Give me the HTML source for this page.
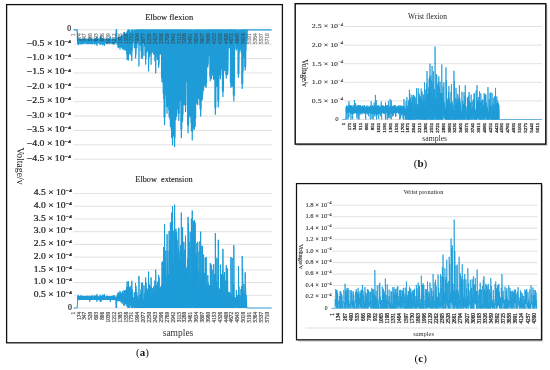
<!DOCTYPE html>
<html><head><meta charset="utf-8"><title>EMG figure</title>
<style>html,body{margin:0;padding:0;background:#fff}svg{display:block}text{font-family:"Liberation Serif",serif}</style></head><body>
<svg width="550" height="370" viewBox="0 0 550 370">
<rect width="550" height="370" fill="#fff"/>
<rect x="6.6" y="4.6" width="275.8" height="338.2" fill="#fff" stroke="#111" stroke-width="1.3"/>
<line x1="73.5" x2="272" y1="44.18" y2="44.18" stroke="#d9d9d9" stroke-width="0.8"/>
<line x1="73.5" x2="272" y1="58.56" y2="58.56" stroke="#d9d9d9" stroke-width="0.8"/>
<line x1="73.5" x2="272" y1="72.94" y2="72.94" stroke="#d9d9d9" stroke-width="0.8"/>
<line x1="73.5" x2="272" y1="87.32" y2="87.32" stroke="#d9d9d9" stroke-width="0.8"/>
<line x1="73.5" x2="272" y1="101.70" y2="101.70" stroke="#d9d9d9" stroke-width="0.8"/>
<line x1="73.5" x2="272" y1="116.08" y2="116.08" stroke="#d9d9d9" stroke-width="0.8"/>
<line x1="73.5" x2="272" y1="130.46" y2="130.46" stroke="#d9d9d9" stroke-width="0.8"/>
<line x1="73.5" x2="272" y1="144.84" y2="144.84" stroke="#d9d9d9" stroke-width="0.8"/>
<line x1="73.5" x2="272" y1="159.22" y2="159.22" stroke="#d9d9d9" stroke-width="0.8"/>
<line x1="73.5" x2="272" y1="29.8" y2="29.8" stroke="#d9d9d9" stroke-width="0.8"/>
<path d="M73.80,29.80 L73.80,29.80 L74.22,29.80 L74.22,29.80 L74.64,29.80 L74.64,29.80 L75.06,29.80 L75.06,29.80 L75.48,29.80 L75.48,29.80 L75.90,29.80 L75.90,29.80 L76.32,29.80 L76.32,29.80 L76.74,29.80 L76.74,29.80 L77.16,29.80 L77.16,29.80 L77.58,39.19 L77.58,43.39 L78.00,39.49 L78.00,43.71 L78.42,38.76 L78.42,44.65 L78.84,39.28 L78.84,42.65 L79.26,38.74 L79.26,43.13 L79.68,38.96 L79.68,43.36 L80.10,39.19 L80.10,43.51 L80.52,39.05 L80.52,43.78 L80.94,39.49 L80.94,43.63 L81.36,39.28 L81.36,43.13 L81.78,39.07 L81.78,42.98 L82.20,39.11 L82.20,43.65 L82.62,38.96 L82.62,42.95 L83.04,39.16 L83.04,42.32 L83.46,39.33 L83.46,43.46 L83.88,39.04 L83.88,43.32 L84.30,39.00 L84.30,42.93 L84.72,39.55 L84.72,42.56 L85.14,39.34 L85.14,42.99 L85.56,38.78 L85.56,42.51 L85.98,38.83 L85.98,43.12 L86.40,39.30 L86.40,43.10 L86.82,39.52 L86.82,43.61 L87.24,39.44 L87.24,43.45 L87.66,39.26 L87.66,42.80 L88.08,38.88 L88.08,43.42 L88.50,39.45 L88.50,43.10 L88.92,39.52 L88.92,43.53 L89.34,38.90 L89.34,42.47 L89.76,36.97 L89.76,42.41 L90.18,38.90 L90.18,43.43 L90.60,38.95 L90.60,43.29 L91.02,38.78 L91.02,42.27 L91.44,39.18 L91.44,43.61 L91.86,39.31 L91.86,43.71 L92.28,39.46 L92.28,42.67 L92.70,39.32 L92.70,43.62 L93.12,39.34 L93.12,42.41 L93.54,39.47 L93.54,42.43 L93.96,39.55 L93.96,42.80 L94.38,39.43 L94.38,43.83 L94.80,38.96 L94.80,43.61 L95.22,38.90 L95.22,43.60 L95.64,38.96 L95.64,42.91 L96.06,39.44 L96.06,43.09 L96.48,39.55 L96.48,43.46 L96.90,37.02 L96.90,45.34 L97.32,39.36 L97.32,42.69 L97.74,39.56 L97.74,43.03 L98.16,39.13 L98.16,42.27 L98.58,38.77 L98.58,42.30 L99.00,38.87 L99.00,42.92 L99.42,39.25 L99.42,42.81 L99.84,38.95 L99.84,43.55 L100.26,36.62 L100.26,44.72 L100.68,39.11 L100.68,42.45 L101.10,36.91 L101.10,43.37 L101.52,39.09 L101.52,42.81 L101.94,38.91 L101.94,43.57 L102.36,39.52 L102.36,42.64 L102.78,39.20 L102.78,44.95 L103.20,38.72 L103.20,42.59 L103.62,38.97 L103.62,43.87 L104.04,39.35 L104.04,43.26 L104.46,38.86 L104.46,45.32 L104.88,39.30 L104.88,42.94 L105.30,39.39 L105.30,42.36 L105.72,39.52 L105.72,42.55 L106.14,39.01 L106.14,42.26 L106.56,39.35 L106.56,42.99 L106.98,38.97 L106.98,43.72 L107.40,39.49 L107.40,42.60 L107.82,39.15 L107.82,43.15 L108.24,38.87 L108.24,43.09 L108.66,39.24 L108.66,43.01 L109.08,39.56 L109.08,42.31 L109.50,39.28 L109.50,43.10 L109.92,39.11 L109.92,43.09 L110.34,36.79 L110.34,42.34 L110.76,38.90 L110.76,42.54 L111.18,39.43 L111.18,43.01 L111.60,39.36 L111.60,43.12 L112.02,39.52 L112.02,43.49 L112.44,39.57 L112.44,42.25 L112.86,38.75 L112.86,43.46 L113.28,39.19 L113.28,43.79 L113.70,38.76 L113.70,43.12 L114.12,39.53 L114.12,44.13 L114.54,38.88 L114.54,43.42 L114.96,39.12 L114.96,42.18 L115.38,39.29 L115.38,42.45 L115.80,39.29 L115.80,42.45 L116.22,29.80 L116.22,41.88 L116.64,29.80 L116.64,41.88 L117.06,38.43 L117.06,44.18 L117.48,38.43 L117.48,44.18 L117.90,38.43 L117.90,47.06 L118.32,37.30 L118.32,45.14 L118.74,38.47 L118.74,47.31 L119.16,37.70 L119.16,45.92 L119.58,38.06 L119.58,44.77 L120.00,37.45 L120.00,49.07 L120.42,38.20 L120.42,46.79 L120.84,37.56 L120.84,46.51 L121.26,35.85 L121.26,47.16 L121.68,36.74 L121.68,44.98 L122.10,34.80 L122.10,45.47 L122.52,36.84 L122.52,48.86 L122.94,37.21 L122.94,48.80 L123.36,35.87 L123.36,45.58 L123.78,32.65 L123.78,45.92 L124.20,33.51 L124.20,49.93 L124.62,32.30 L124.62,49.26 L125.04,34.09 L125.04,45.70 L125.46,34.43 L125.46,48.98 L125.88,34.62 L125.88,50.22 L126.30,34.80 L126.30,50.59 L126.72,32.83 L126.72,53.71 L127.14,31.34 L127.14,59.71 L127.56,32.93 L127.56,51.49 L127.98,29.98 L127.98,50.45 L128.40,30.51 L128.40,59.87 L128.82,29.80 L128.82,52.83 L129.24,32.76 L129.24,53.90 L129.66,30.00 L129.66,52.62 L130.08,32.07 L130.08,51.74 L130.50,33.68 L130.50,49.92 L130.92,33.04 L130.92,54.77 L131.34,30.16 L131.34,42.06 L131.76,29.80 L131.76,60.57 L132.18,29.80 L132.18,50.79 L132.60,32.02 L132.60,41.10 L133.02,29.80 L133.02,39.11 L133.44,31.23 L133.44,41.84 L133.86,31.86 L133.86,35.83 L134.28,31.94 L134.28,47.69 L134.70,29.80 L134.70,44.88 L135.12,29.80 L135.12,36.37 L135.54,30.70 L135.54,57.98 L135.96,30.20 L135.96,54.45 L136.38,29.80 L136.38,42.88 L136.80,29.80 L136.80,47.69 L137.22,29.80 L137.22,43.45 L137.64,31.10 L137.64,39.00 L138.06,29.80 L138.06,40.50 L138.48,29.80 L138.48,38.81 L138.90,30.20 L138.90,66.04 L139.32,29.80 L139.32,43.64 L139.74,30.92 L139.74,43.90 L140.16,29.80 L140.16,41.92 L140.58,29.80 L140.58,45.49 L141.00,29.80 L141.00,50.75 L141.42,29.80 L141.42,57.97 L141.84,29.80 L141.84,44.19 L142.26,29.80 L142.26,58.56 L142.68,29.80 L142.68,42.64 L143.10,29.80 L143.10,36.68 L143.52,29.80 L143.52,38.80 L143.94,29.80 L143.94,55.44 L144.36,29.80 L144.36,46.11 L144.78,29.80 L144.78,40.78 L145.20,30.89 L145.20,38.77 L145.62,29.80 L145.62,64.20 L146.04,29.80 L146.04,58.20 L146.46,29.80 L146.46,43.34 L146.88,29.80 L146.88,52.06 L147.30,29.80 L147.30,47.74 L147.72,30.09 L147.72,50.35 L148.14,29.82 L148.14,38.99 L148.56,29.80 L148.56,70.93 L148.98,29.80 L148.98,47.08 L149.40,29.80 L149.40,56.40 L149.82,29.80 L149.82,48.64 L150.24,30.88 L150.24,45.30 L150.66,29.80 L150.66,54.41 L151.08,31.65 L151.08,64.31 L151.50,29.80 L151.50,43.81 L151.92,29.80 L151.92,39.54 L152.34,29.80 L152.34,52.14 L152.76,29.80 L152.76,40.68 L153.18,29.80 L153.18,47.98 L153.60,29.80 L153.60,54.19 L154.02,29.80 L154.02,39.79 L154.44,29.80 L154.44,48.03 L154.86,29.80 L154.86,60.87 L155.28,29.80 L155.28,54.93 L155.70,29.80 L155.70,72.94 L156.12,31.50 L156.12,42.65 L156.54,29.80 L156.54,56.02 L156.96,29.80 L156.96,45.53 L157.38,29.80 L157.38,59.54 L157.80,29.80 L157.80,45.56 L158.22,29.80 L158.22,39.12 L158.64,29.80 L158.64,67.19 L159.06,29.80 L159.06,64.28 L159.48,29.80 L159.48,51.39 L159.90,29.80 L159.90,39.36 L160.32,29.80 L160.32,53.83 L160.74,30.84 L160.74,48.40 L161.16,29.80 L161.16,54.18 L161.58,31.53 L161.58,77.43 L162.00,29.80 L162.00,81.57 L162.42,29.81 L162.42,78.49 L162.84,29.80 L162.84,82.73 L163.26,29.80 L163.26,93.30 L163.68,29.80 L163.68,98.82 L164.10,29.80 L164.10,117.12 L164.52,29.80 L164.52,124.71 L164.94,29.80 L164.94,117.12 L165.36,29.80 L165.36,89.59 L165.78,30.87 L165.78,94.79 L166.20,29.80 L166.20,89.59 L166.62,29.80 L166.62,106.53 L167.04,29.80 L167.04,113.20 L167.46,29.80 L167.46,106.53 L167.88,29.80 L167.88,94.29 L168.30,29.84 L168.30,89.13 L168.72,29.80 L168.72,109.93 L169.14,31.13 L169.14,116.90 L169.56,29.80 L169.56,109.93 L169.98,29.80 L169.98,118.70 L170.40,29.80 L170.40,126.43 L170.82,29.80 L170.82,118.70 L171.24,29.80 L171.24,128.96 L171.66,29.80 L171.66,137.58 L172.08,29.80 L172.08,135.64 L172.50,29.80 L172.50,144.84 L172.92,29.80 L172.92,135.64 L173.34,31.44 L173.34,110.24 L173.76,29.80 L173.76,117.23 L174.18,29.80 L174.18,137.22 L174.60,29.80 L174.60,146.57 L175.02,29.80 L175.02,137.22 L175.44,29.80 L175.44,112.12 L175.86,29.80 L175.86,119.28 L176.28,29.80 L176.28,112.12 L176.70,29.89 L176.70,116.08 L177.12,29.80 L177.12,109.18 L177.54,29.80 L177.54,100.80 L177.96,30.99 L177.96,92.06 L178.38,29.80 L178.38,113.15 L178.80,29.80 L178.80,120.39 L179.22,29.80 L179.22,113.15 L179.64,29.80 L179.64,88.94 L180.06,29.80 L180.06,94.89 L180.48,29.80 L180.48,100.55 L180.90,29.80 L180.90,129.02 L181.32,29.80 L181.32,137.65 L181.74,29.80 L181.74,129.02 L182.16,29.80 L182.16,114.00 L182.58,29.80 L182.58,121.32 L183.00,29.80 L183.00,114.00 L183.42,29.80 L183.42,98.59 L183.84,29.80 L183.84,104.58 L184.26,29.80 L184.26,98.59 L184.68,29.80 L184.68,90.73 L185.10,29.80 L185.10,105.00 L185.52,29.80 L185.52,111.54 L185.94,29.80 L185.94,105.00 L186.36,31.55 L186.36,74.80 L186.78,31.09 L186.78,72.85 L187.20,29.80 L187.20,81.39 L187.62,29.80 L187.62,124.52 L188.04,29.80 L188.04,132.76 L188.46,29.80 L188.46,125.78 L188.88,29.80 L188.88,118.10 L189.30,30.91 L189.30,98.67 L189.72,29.80 L189.72,109.18 L190.14,29.80 L190.14,116.08 L190.56,29.80 L190.56,109.18 L190.98,29.80 L190.98,122.59 L191.40,29.80 L191.40,130.66 L191.82,29.80 L191.82,131.14 L192.24,31.13 L192.24,139.95 L192.66,31.83 L192.66,131.14 L193.08,29.80 L193.08,120.12 L193.50,29.80 L193.50,127.97 L193.92,31.33 L193.92,121.30 L194.34,29.80 L194.34,129.26 L194.76,31.15 L194.76,121.30 L195.18,29.80 L195.18,126.43 L195.60,29.80 L195.60,118.70 L196.02,29.80 L196.02,91.32 L196.44,29.80 L196.44,97.37 L196.86,30.75 L196.86,103.24 L197.28,29.80 L197.28,98.59 L197.70,29.80 L197.70,104.58 L198.12,29.80 L198.12,98.59 L198.54,29.80 L198.54,88.48 L198.96,30.03 L198.96,93.59 L199.38,29.80 L199.38,99.09 L199.80,29.80 L199.80,105.12 L200.22,30.44 L200.22,109.18 L200.64,29.80 L200.64,116.08 L201.06,29.80 L201.06,109.18 L201.48,29.80 L201.48,94.46 L201.90,29.80 L201.90,100.08 L202.32,29.80 L202.32,99.33 L202.74,29.80 L202.74,93.77 L203.16,29.80 L203.16,85.36 L203.58,29.80 L203.58,90.20 L204.00,29.80 L204.00,85.36 L204.42,29.80 L204.42,69.26 L204.84,30.92 L204.84,81.76 L205.26,29.80 L205.26,86.28 L205.68,31.88 L205.68,86.50 L206.10,29.80 L206.10,87.32 L206.52,29.80 L206.52,82.72 L206.94,29.80 L206.94,54.44 L207.36,29.80 L207.36,63.92 L207.78,30.67 L207.78,66.88 L208.20,29.80 L208.20,63.92 L208.62,29.80 L208.62,55.87 L209.04,29.80 L209.04,53.38 L209.46,29.80 L209.46,55.43 L209.88,29.80 L209.88,76.49 L210.30,29.80 L210.30,80.55 L210.72,29.80 L210.72,76.49 L211.14,29.80 L211.14,74.78 L211.56,29.80 L211.56,78.69 L211.98,29.80 L211.98,74.78 L212.40,31.31 L212.40,69.49 L212.82,29.80 L212.82,72.94 L213.24,29.80 L213.24,75.39 L213.66,29.80 L213.66,79.35 L214.08,29.80 L214.08,75.39 L214.50,29.80 L214.50,68.11 L214.92,29.80 L214.92,107.59 L215.34,30.42 L215.34,114.35 L215.76,29.80 L215.76,107.59 L216.18,29.80 L216.18,82.40 L216.60,29.80 L216.60,81.63 L217.02,29.80 L217.02,86.14 L217.44,29.80 L217.44,81.63 L217.86,29.80 L217.86,100.71 L218.28,29.80 L218.28,106.88 L218.70,31.07 L218.70,100.71 L219.12,29.80 L219.12,51.89 L219.54,29.80 L219.54,50.41 L219.96,29.80 L219.96,74.78 L220.38,29.80 L220.38,78.69 L220.80,29.80 L220.80,74.78 L221.22,29.80 L221.22,66.32 L221.64,30.93 L221.64,68.16 L222.06,29.80 L222.06,69.04 L222.48,29.80 L222.48,91.19 L222.90,29.80 L222.90,96.52 L223.32,29.80 L223.32,91.19 L223.74,29.80 L223.74,66.65 L224.16,29.80 L224.16,67.31 L224.58,30.90 L224.58,70.57 L225.00,29.80 L225.00,67.31 L225.42,29.80 L225.42,58.21 L225.84,30.21 L225.84,74.25 L226.26,29.80 L226.26,78.12 L226.68,29.80 L226.68,74.25 L227.10,29.80 L227.10,70.99 L227.52,29.80 L227.52,74.57 L227.94,29.80 L227.94,70.99 L228.36,29.80 L228.36,48.00 L228.78,29.80 L228.78,46.54 L229.20,29.80 L229.20,47.81 L229.62,29.80 L229.62,46.37 L230.04,29.80 L230.04,45.65 L230.46,29.80 L230.46,82.72 L230.88,29.80 L230.88,87.32 L231.30,29.80 L231.30,82.72 L231.72,29.80 L231.72,81.80 L232.14,29.80 L232.14,86.32 L232.56,29.80 L232.56,81.80 L232.98,30.50 L232.98,54.70 L233.40,29.80 L233.40,95.15 L233.82,29.80 L233.82,100.84 L234.24,29.80 L234.24,95.15 L234.66,29.80 L234.66,41.18 L235.08,29.80 L235.08,42.17 L235.50,29.80 L235.50,41.18 L235.92,29.80 L235.92,48.45 L236.34,31.71 L236.34,50.07 L236.76,32.04 L236.76,48.45 L237.18,29.80 L237.18,44.46 L237.60,31.02 L237.60,43.94 L238.02,30.98 L238.02,73.46 L238.44,29.80 L238.44,77.25 L238.86,31.00 L238.86,73.46 L239.28,29.80 L239.28,52.28 L239.70,30.10 L239.70,43.62 L240.12,29.80 L240.12,42.56 L240.54,31.93 L240.54,49.31 L240.96,29.80 L240.96,51.01 L241.38,29.80 L241.38,52.67 L241.80,29.80 L241.80,83.78 L242.22,29.80 L242.22,88.47 L242.64,29.80 L242.64,83.78 L243.06,29.80 L243.06,71.18 L243.48,29.80 L243.48,54.68 L243.90,29.80 L243.90,56.85 L244.32,29.80 L244.32,54.68 L244.74,29.80 L244.74,66.84 L245.16,29.80 L245.16,70.06 L245.58,29.80 L245.58,66.84 L246.00,29.80 L246.00,50.47 L246.42,29.80 L246.42,43.27 L246.84,29.80 L246.84,39.11 L247.26,29.80 L247.26,29.80 L247.68,29.80 L247.68,29.80 L248.10,29.80 L248.10,29.80 L248.52,29.80 L248.52,29.80 L248.94,29.80 L248.94,29.80 L249.36,29.80 L249.36,29.80 L249.78,29.80 L249.78,29.80 L250.20,29.80 L250.20,29.80 L250.62,29.80 L250.62,29.80 L251.04,29.80 L251.04,29.80 L251.46,29.80 L251.46,29.80 L251.88,29.80 L251.88,29.80 L252.30,29.80 L252.30,29.80 L252.72,29.80 L252.72,29.80 L253.14,29.80 L253.14,29.80 L253.56,29.80 L253.56,29.80 L253.98,29.80 L253.98,29.80 L254.40,29.80 L254.40,29.80 L254.82,29.80 L254.82,29.80 L255.24,29.80 L255.24,29.80 L255.66,29.80 L255.66,29.80 L256.08,29.80 L256.08,29.80 L256.50,29.80 L256.50,29.80 L256.92,29.80 L256.92,29.80 L257.34,29.80 L257.34,29.80 L257.76,29.80 L257.76,29.80 L258.18,29.80 L258.18,29.80 L258.60,29.80 L258.60,29.80 L259.02,29.80 L259.02,29.80 L259.44,29.80 L259.44,29.80 L259.86,29.80 L259.86,29.80 L260.28,29.80 L260.28,29.80 L260.70,29.80 L260.70,29.80 L261.12,29.80 L261.12,29.80 L261.54,29.80 L261.54,29.80 L261.96,29.80 L261.96,29.80 L262.38,29.80 L262.38,29.80 L262.80,29.80 L262.80,29.80 L263.22,29.80 L263.22,29.80 L263.64,29.80 L263.64,29.80 L264.06,29.80 L264.06,29.80 L264.48,29.80 L264.48,29.80 L264.90,29.80 L264.90,29.80 L265.32,29.80 L265.32,29.80 L265.74,29.80 L265.74,29.80 L266.16,29.80 L266.16,29.80 L266.58,29.80 L266.58,29.80 L267.00,29.80 L267.00,29.80 L267.42,29.80 L267.42,29.80 L267.84,29.80 L267.84,29.80 L268.26,29.80 L268.26,29.80 L268.68,29.80 L268.68,29.80 L269.10,29.80 L269.10,29.80 L269.52,29.80 L269.52,29.80 L269.94,29.80 L269.94,29.80 L270.36,29.80 L270.36,29.80 L270.78,29.80 L270.78,29.80 L271.20,29.80 L271.20,29.80 L271.62,29.80 L271.62,29.80" fill="none" stroke="#1e9cd8" stroke-width="1.25" stroke-linejoin="round"/>
<g opacity="0.62"><text transform="translate(74.69,33.4) rotate(-90)" font-size="5.25" fill="#3a3a3a" stroke="#3a3a3a" stroke-width="0.25" text-anchor="end" font-family="Liberation Sans, sans-serif">1</text>
<text transform="translate(80.57,33.4) rotate(-90)" font-size="5.25" fill="#3a3a3a" stroke="#3a3a3a" stroke-width="0.25" text-anchor="end" font-family="Liberation Sans, sans-serif">174</text>
<text transform="translate(86.45,33.4) rotate(-90)" font-size="5.25" fill="#3a3a3a" stroke="#3a3a3a" stroke-width="0.25" text-anchor="end" font-family="Liberation Sans, sans-serif">347</text>
<text transform="translate(92.33,33.4) rotate(-90)" font-size="5.25" fill="#3a3a3a" stroke="#3a3a3a" stroke-width="0.25" text-anchor="end" font-family="Liberation Sans, sans-serif">520</text>
<text transform="translate(98.21,33.4) rotate(-90)" font-size="5.25" fill="#3a3a3a" stroke="#3a3a3a" stroke-width="0.25" text-anchor="end" font-family="Liberation Sans, sans-serif">693</text>
<text transform="translate(104.08,33.4) rotate(-90)" font-size="5.25" fill="#3a3a3a" stroke="#3a3a3a" stroke-width="0.25" text-anchor="end" font-family="Liberation Sans, sans-serif">866</text>
<text transform="translate(109.96,33.4) rotate(-90)" font-size="5.25" fill="#3a3a3a" stroke="#3a3a3a" stroke-width="0.25" text-anchor="end" font-family="Liberation Sans, sans-serif">1039</text>
<text transform="translate(115.84,33.4) rotate(-90)" font-size="5.25" fill="#3a3a3a" stroke="#3a3a3a" stroke-width="0.25" text-anchor="end" font-family="Liberation Sans, sans-serif">1212</text>
<text transform="translate(121.72,33.4) rotate(-90)" font-size="5.25" fill="#3a3a3a" stroke="#3a3a3a" stroke-width="0.25" text-anchor="end" font-family="Liberation Sans, sans-serif">1385</text>
<text transform="translate(127.60,33.4) rotate(-90)" font-size="5.25" fill="#3a3a3a" stroke="#3a3a3a" stroke-width="0.25" text-anchor="end" font-family="Liberation Sans, sans-serif">1558</text>
<text transform="translate(133.48,33.4) rotate(-90)" font-size="5.25" fill="#3a3a3a" stroke="#3a3a3a" stroke-width="0.25" text-anchor="end" font-family="Liberation Sans, sans-serif">1731</text>
<text transform="translate(139.36,33.4) rotate(-90)" font-size="5.25" fill="#3a3a3a" stroke="#3a3a3a" stroke-width="0.25" text-anchor="end" font-family="Liberation Sans, sans-serif">1904</text>
<text transform="translate(145.24,33.4) rotate(-90)" font-size="5.25" fill="#3a3a3a" stroke="#3a3a3a" stroke-width="0.25" text-anchor="end" font-family="Liberation Sans, sans-serif">2077</text>
<text transform="translate(151.12,33.4) rotate(-90)" font-size="5.25" fill="#3a3a3a" stroke="#3a3a3a" stroke-width="0.25" text-anchor="end" font-family="Liberation Sans, sans-serif">2250</text>
<text transform="translate(157.00,33.4) rotate(-90)" font-size="5.25" fill="#3a3a3a" stroke="#3a3a3a" stroke-width="0.25" text-anchor="end" font-family="Liberation Sans, sans-serif">2423</text>
<text transform="translate(162.87,33.4) rotate(-90)" font-size="5.25" fill="#3a3a3a" stroke="#3a3a3a" stroke-width="0.25" text-anchor="end" font-family="Liberation Sans, sans-serif">2596</text>
<text transform="translate(168.75,33.4) rotate(-90)" font-size="5.25" fill="#3a3a3a" stroke="#3a3a3a" stroke-width="0.25" text-anchor="end" font-family="Liberation Sans, sans-serif">2769</text>
<text transform="translate(174.63,33.4) rotate(-90)" font-size="5.25" fill="#3a3a3a" stroke="#3a3a3a" stroke-width="0.25" text-anchor="end" font-family="Liberation Sans, sans-serif">2942</text>
<text transform="translate(180.51,33.4) rotate(-90)" font-size="5.25" fill="#3a3a3a" stroke="#3a3a3a" stroke-width="0.25" text-anchor="end" font-family="Liberation Sans, sans-serif">3115</text>
<text transform="translate(186.39,33.4) rotate(-90)" font-size="5.25" fill="#3a3a3a" stroke="#3a3a3a" stroke-width="0.25" text-anchor="end" font-family="Liberation Sans, sans-serif">3288</text>
<text transform="translate(192.27,33.4) rotate(-90)" font-size="5.25" fill="#3a3a3a" stroke="#3a3a3a" stroke-width="0.25" text-anchor="end" font-family="Liberation Sans, sans-serif">3461</text>
<text transform="translate(198.15,33.4) rotate(-90)" font-size="5.25" fill="#3a3a3a" stroke="#3a3a3a" stroke-width="0.25" text-anchor="end" font-family="Liberation Sans, sans-serif">3634</text>
<text transform="translate(204.03,33.4) rotate(-90)" font-size="5.25" fill="#3a3a3a" stroke="#3a3a3a" stroke-width="0.25" text-anchor="end" font-family="Liberation Sans, sans-serif">3807</text>
<text transform="translate(209.91,33.4) rotate(-90)" font-size="5.25" fill="#3a3a3a" stroke="#3a3a3a" stroke-width="0.25" text-anchor="end" font-family="Liberation Sans, sans-serif">3980</text>
<text transform="translate(215.79,33.4) rotate(-90)" font-size="5.25" fill="#3a3a3a" stroke="#3a3a3a" stroke-width="0.25" text-anchor="end" font-family="Liberation Sans, sans-serif">4153</text>
<text transform="translate(221.66,33.4) rotate(-90)" font-size="5.25" fill="#3a3a3a" stroke="#3a3a3a" stroke-width="0.25" text-anchor="end" font-family="Liberation Sans, sans-serif">4326</text>
<text transform="translate(227.54,33.4) rotate(-90)" font-size="5.25" fill="#3a3a3a" stroke="#3a3a3a" stroke-width="0.25" text-anchor="end" font-family="Liberation Sans, sans-serif">4499</text>
<text transform="translate(233.42,33.4) rotate(-90)" font-size="5.25" fill="#3a3a3a" stroke="#3a3a3a" stroke-width="0.25" text-anchor="end" font-family="Liberation Sans, sans-serif">4672</text>
<text transform="translate(239.30,33.4) rotate(-90)" font-size="5.25" fill="#3a3a3a" stroke="#3a3a3a" stroke-width="0.25" text-anchor="end" font-family="Liberation Sans, sans-serif">4845</text>
<text transform="translate(245.18,33.4) rotate(-90)" font-size="5.25" fill="#3a3a3a" stroke="#3a3a3a" stroke-width="0.25" text-anchor="end" font-family="Liberation Sans, sans-serif">5018</text>
<text transform="translate(251.06,33.4) rotate(-90)" font-size="5.25" fill="#3a3a3a" stroke="#3a3a3a" stroke-width="0.25" text-anchor="end" font-family="Liberation Sans, sans-serif">5191</text>
<text transform="translate(256.94,33.4) rotate(-90)" font-size="5.25" fill="#3a3a3a" stroke="#3a3a3a" stroke-width="0.25" text-anchor="end" font-family="Liberation Sans, sans-serif">5364</text>
<text transform="translate(262.82,33.4) rotate(-90)" font-size="5.25" fill="#3a3a3a" stroke="#3a3a3a" stroke-width="0.25" text-anchor="end" font-family="Liberation Sans, sans-serif">5537</text>
<text transform="translate(268.70,33.4) rotate(-90)" font-size="5.25" fill="#3a3a3a" stroke="#3a3a3a" stroke-width="0.25" text-anchor="end" font-family="Liberation Sans, sans-serif">5710</text></g>
<text x="169.2" y="20.3" font-size="8.45" fill="#222" stroke="#222" stroke-width="0.12" text-anchor="middle">Elbow flexion</text>
<text x="71" y="31.30" font-size="7.6" fill="#222" stroke="#222" stroke-width="0.22" text-anchor="end">0</text>
<text x="71" y="45.68" font-size="7.6" fill="#222" stroke="#222" stroke-width="0.22" text-anchor="end" textLength="44.2" lengthAdjust="spacingAndGlyphs">−0.5 × 10<tspan dy="-2.89" font-size="4.71">−4</tspan></text>
<text x="71" y="60.06" font-size="7.6" fill="#222" stroke="#222" stroke-width="0.22" text-anchor="end" textLength="44.2" lengthAdjust="spacingAndGlyphs">−1.0 × 10<tspan dy="-2.89" font-size="4.71">−4</tspan></text>
<text x="71" y="74.44" font-size="7.6" fill="#222" stroke="#222" stroke-width="0.22" text-anchor="end" textLength="44.2" lengthAdjust="spacingAndGlyphs">−1.5 × 10<tspan dy="-2.89" font-size="4.71">−4</tspan></text>
<text x="71" y="88.82" font-size="7.6" fill="#222" stroke="#222" stroke-width="0.22" text-anchor="end" textLength="44.2" lengthAdjust="spacingAndGlyphs">−2.0 × 10<tspan dy="-2.89" font-size="4.71">−4</tspan></text>
<text x="71" y="103.20" font-size="7.6" fill="#222" stroke="#222" stroke-width="0.22" text-anchor="end" textLength="44.2" lengthAdjust="spacingAndGlyphs">−2.5 × 10<tspan dy="-2.89" font-size="4.71">−4</tspan></text>
<text x="71" y="117.58" font-size="7.6" fill="#222" stroke="#222" stroke-width="0.22" text-anchor="end" textLength="44.2" lengthAdjust="spacingAndGlyphs">−3.0 × 10<tspan dy="-2.89" font-size="4.71">−4</tspan></text>
<text x="71" y="131.96" font-size="7.6" fill="#222" stroke="#222" stroke-width="0.22" text-anchor="end" textLength="44.2" lengthAdjust="spacingAndGlyphs">−3.5 × 10<tspan dy="-2.89" font-size="4.71">−4</tspan></text>
<text x="71" y="146.34" font-size="7.6" fill="#222" stroke="#222" stroke-width="0.22" text-anchor="end" textLength="44.2" lengthAdjust="spacingAndGlyphs">−4.0 × 10<tspan dy="-2.89" font-size="4.71">−4</tspan></text>
<text x="71" y="160.72" font-size="7.6" fill="#222" stroke="#222" stroke-width="0.22" text-anchor="end" textLength="44.2" lengthAdjust="spacingAndGlyphs">−4.5 × 10<tspan dy="-2.89" font-size="4.71">−4</tspan></text>
<line x1="73.5" x2="272" y1="308.00" y2="308.00" stroke="#d9d9d9" stroke-width="0.8"/>
<line x1="73.5" x2="272" y1="295.28" y2="295.28" stroke="#d9d9d9" stroke-width="0.8"/>
<line x1="73.5" x2="272" y1="282.56" y2="282.56" stroke="#d9d9d9" stroke-width="0.8"/>
<line x1="73.5" x2="272" y1="269.84" y2="269.84" stroke="#d9d9d9" stroke-width="0.8"/>
<line x1="73.5" x2="272" y1="257.12" y2="257.12" stroke="#d9d9d9" stroke-width="0.8"/>
<line x1="73.5" x2="272" y1="244.40" y2="244.40" stroke="#d9d9d9" stroke-width="0.8"/>
<line x1="73.5" x2="272" y1="231.68" y2="231.68" stroke="#d9d9d9" stroke-width="0.8"/>
<line x1="73.5" x2="272" y1="218.96" y2="218.96" stroke="#d9d9d9" stroke-width="0.8"/>
<line x1="73.5" x2="272" y1="206.24" y2="206.24" stroke="#d9d9d9" stroke-width="0.8"/>
<line x1="73.5" x2="272" y1="193.52" y2="193.52" stroke="#d9d9d9" stroke-width="0.8"/>
<path d="M73.80,308.00 L73.80,308.00 L74.22,308.00 L74.22,308.00 L74.64,308.00 L74.64,308.00 L75.06,308.00 L75.06,308.00 L75.48,308.00 L75.48,308.00 L75.90,308.00 L75.90,308.00 L76.32,308.00 L76.32,308.00 L76.74,308.00 L76.74,308.00 L77.16,308.00 L77.16,308.00 L77.58,299.69 L77.58,295.98 L78.00,299.43 L78.00,295.69 L78.42,300.07 L78.42,294.86 L78.84,299.62 L78.84,296.64 L79.26,300.10 L79.26,296.21 L79.68,299.90 L79.68,296.00 L80.10,299.70 L80.10,295.87 L80.52,299.82 L80.52,295.63 L80.94,299.42 L80.94,295.77 L81.36,299.61 L81.36,296.21 L81.78,299.80 L81.78,296.35 L82.20,299.76 L82.20,295.75 L82.62,299.90 L82.62,296.37 L83.04,299.72 L83.04,296.93 L83.46,299.57 L83.46,295.92 L83.88,299.83 L83.88,296.04 L84.30,299.86 L84.30,296.38 L84.72,299.37 L84.72,296.71 L85.14,299.56 L85.14,296.34 L85.56,300.06 L85.56,296.76 L85.98,300.01 L85.98,296.22 L86.40,299.59 L86.40,296.23 L86.82,299.41 L86.82,295.78 L87.24,299.47 L87.24,295.92 L87.66,299.63 L87.66,296.50 L88.08,299.97 L88.08,295.95 L88.50,299.46 L88.50,296.23 L88.92,299.41 L88.92,295.86 L89.34,299.95 L89.34,296.79 L89.76,301.66 L89.76,296.84 L90.18,299.95 L90.18,295.95 L90.60,299.90 L90.60,296.07 L91.02,300.06 L91.02,296.97 L91.44,299.70 L91.44,295.78 L91.86,299.59 L91.86,295.69 L92.28,299.45 L92.28,296.62 L92.70,299.58 L92.70,295.78 L93.12,299.56 L93.12,296.85 L93.54,299.44 L93.54,296.83 L93.96,299.37 L93.96,296.50 L94.38,299.48 L94.38,295.59 L94.80,299.89 L94.80,295.79 L95.22,299.95 L95.22,295.79 L95.64,299.90 L95.64,296.40 L96.06,299.47 L96.06,296.24 L96.48,299.38 L96.48,295.91 L96.90,301.61 L96.90,294.25 L97.32,299.55 L97.32,296.60 L97.74,299.37 L97.74,296.29 L98.16,299.75 L98.16,296.97 L98.58,300.06 L98.58,296.94 L99.00,299.97 L99.00,296.39 L99.42,299.64 L99.42,296.49 L99.84,299.90 L99.84,295.84 L100.26,301.96 L100.26,294.80 L100.68,299.76 L100.68,296.81 L101.10,301.71 L101.10,296.00 L101.52,299.78 L101.52,296.49 L101.94,299.94 L101.94,295.82 L102.36,299.40 L102.36,296.64 L102.78,299.68 L102.78,294.60 L103.20,300.11 L103.20,296.68 L103.62,299.89 L103.62,295.55 L104.04,299.55 L104.04,296.10 L104.46,299.98 L104.46,294.27 L104.88,299.60 L104.88,296.38 L105.30,299.52 L105.30,296.89 L105.72,299.41 L105.72,296.72 L106.14,299.85 L106.14,296.97 L106.56,299.55 L106.56,296.33 L106.98,299.89 L106.98,295.69 L107.40,299.43 L107.40,296.68 L107.82,299.73 L107.82,296.19 L108.24,299.98 L108.24,296.25 L108.66,299.65 L108.66,296.31 L109.08,299.36 L109.08,296.93 L109.50,299.62 L109.50,296.23 L109.92,299.77 L109.92,296.24 L110.34,301.82 L110.34,296.90 L110.76,299.95 L110.76,296.73 L111.18,299.48 L111.18,296.32 L111.60,299.55 L111.60,296.22 L112.02,299.40 L112.02,295.89 L112.44,299.35 L112.44,296.99 L112.86,300.08 L112.86,295.92 L113.28,299.69 L113.28,295.63 L113.70,300.07 L113.70,296.22 L114.12,299.39 L114.12,295.32 L114.54,299.97 L114.54,295.95 L114.96,299.76 L114.96,297.05 L115.38,299.60 L115.38,296.81 L115.80,299.60 L115.80,296.81 L116.22,308.00 L116.22,297.32 L116.64,308.00 L116.64,297.32 L117.06,300.37 L117.06,295.28 L117.48,300.37 L117.48,295.28 L117.90,300.37 L117.90,292.74 L118.32,301.36 L118.32,294.43 L118.74,300.33 L118.74,292.51 L119.16,301.01 L119.16,293.74 L119.58,300.70 L119.58,294.76 L120.00,301.24 L120.00,290.96 L120.42,300.57 L120.42,292.97 L120.84,301.14 L120.84,293.22 L121.26,302.65 L121.26,292.64 L121.68,301.87 L121.68,294.57 L122.10,303.57 L122.10,294.14 L122.52,301.77 L122.52,291.14 L122.94,301.44 L122.94,291.19 L123.36,302.63 L123.36,294.04 L123.78,305.48 L123.78,293.74 L124.20,304.71 L124.20,290.19 L124.62,305.79 L124.62,290.79 L125.04,304.21 L125.04,293.93 L125.46,303.91 L125.46,291.03 L125.88,303.74 L125.88,289.94 L126.30,303.58 L126.30,289.61 L126.72,305.32 L126.72,286.85 L127.14,306.64 L127.14,281.54 L127.56,305.23 L127.56,288.82 L127.98,307.84 L127.98,289.73 L128.40,307.37 L128.40,281.41 L128.82,308.00 L128.82,287.63 L129.24,305.38 L129.24,286.68 L129.66,307.83 L129.66,287.81 L130.08,305.99 L130.08,288.59 L130.50,304.57 L130.50,290.20 L130.92,305.13 L130.92,285.91 L131.34,307.68 L131.34,297.16 L131.76,308.00 L131.76,280.78 L132.18,308.00 L132.18,289.44 L132.60,306.04 L132.60,298.01 L133.02,308.00 L133.02,299.76 L133.44,306.73 L133.44,297.35 L133.86,306.18 L133.86,302.67 L134.28,306.10 L134.28,292.18 L134.70,308.00 L134.70,294.66 L135.12,308.00 L135.12,302.18 L135.54,307.20 L135.54,283.07 L135.96,307.65 L135.96,286.20 L136.38,308.00 L136.38,296.43 L136.80,308.00 L136.80,292.18 L137.22,308.00 L137.22,295.93 L137.64,306.85 L137.64,299.87 L138.06,308.00 L138.06,298.53 L138.48,308.00 L138.48,300.03 L138.90,307.64 L138.90,275.95 L139.32,308.00 L139.32,295.75 L139.74,307.01 L139.74,295.53 L140.16,308.00 L140.16,297.28 L140.58,308.00 L140.58,294.12 L141.00,308.00 L141.00,289.47 L141.42,308.00 L141.42,283.08 L141.84,308.00 L141.84,295.27 L142.26,308.00 L142.26,282.56 L142.68,308.00 L142.68,296.65 L143.10,308.00 L143.10,301.92 L143.52,308.00 L143.52,300.04 L143.94,308.00 L143.94,285.32 L144.36,308.00 L144.36,293.57 L144.78,308.00 L144.78,298.29 L145.20,307.04 L145.20,300.07 L145.62,308.00 L145.62,277.57 L146.04,308.00 L146.04,282.88 L146.46,308.00 L146.46,296.02 L146.88,308.00 L146.88,288.31 L147.30,308.00 L147.30,292.13 L147.72,307.74 L147.72,289.82 L148.14,307.99 L148.14,299.87 L148.56,308.00 L148.56,271.62 L148.98,308.00 L148.98,292.71 L149.40,308.00 L149.40,284.47 L149.82,308.00 L149.82,291.34 L150.24,307.04 L150.24,294.29 L150.66,308.00 L150.66,286.23 L151.08,306.37 L151.08,277.47 L151.50,308.00 L151.50,295.61 L151.92,308.00 L151.92,299.38 L152.34,308.00 L152.34,288.24 L152.76,308.00 L152.76,298.37 L153.18,308.00 L153.18,291.91 L153.60,308.00 L153.60,286.42 L154.02,308.00 L154.02,299.16 L154.44,308.00 L154.44,291.87 L154.86,308.00 L154.86,280.52 L155.28,308.00 L155.28,285.77 L155.70,308.00 L155.70,269.84 L156.12,306.49 L156.12,296.63 L156.54,308.00 L156.54,284.80 L156.96,308.00 L156.96,294.08 L157.38,308.00 L157.38,281.70 L157.80,308.00 L157.80,294.06 L158.22,308.00 L158.22,299.76 L158.64,308.00 L158.64,274.93 L159.06,308.00 L159.06,277.50 L159.48,308.00 L159.48,288.90 L159.90,308.00 L159.90,299.55 L160.32,308.00 L160.32,286.74 L160.74,307.08 L160.74,291.55 L161.16,308.00 L161.16,291.87 L161.58,306.47 L161.58,284.56 L162.00,308.00 L162.00,262.21 L162.42,307.99 L162.42,273.21 L162.84,308.00 L162.84,261.18 L163.26,308.00 L163.26,279.29 L163.68,308.00 L163.68,246.94 L164.10,308.00 L164.10,256.51 L164.52,308.00 L164.52,224.05 L164.94,308.00 L164.94,257.20 L165.36,308.00 L165.36,266.03 L165.78,307.06 L165.78,250.51 L166.20,308.00 L166.20,275.64 L166.62,308.00 L166.62,283.25 L167.04,308.00 L167.04,234.22 L167.46,308.00 L167.46,262.99 L167.88,308.00 L167.88,250.95 L168.30,307.96 L168.30,284.62 L168.72,308.00 L168.72,274.01 L169.14,306.82 L169.14,230.95 L169.56,308.00 L169.56,248.69 L169.98,308.00 L169.98,240.20 L170.40,308.00 L170.40,222.52 L170.82,308.00 L170.82,247.22 L171.24,308.00 L171.24,279.23 L171.66,308.00 L171.66,212.66 L172.08,308.00 L172.08,258.71 L172.50,308.00 L172.50,206.24 L172.92,308.00 L172.92,265.81 L173.34,306.55 L173.34,260.68 L173.76,308.00 L173.76,230.66 L174.18,308.00 L174.18,257.93 L174.60,308.00 L174.60,204.71 L175.02,308.00 L175.02,233.50 L175.44,308.00 L175.44,236.79 L175.86,308.00 L175.86,228.85 L176.28,308.00 L176.28,260.78 L176.70,307.92 L176.70,231.68 L177.12,308.00 L177.12,239.74 L177.54,308.00 L177.54,278.03 L177.96,306.95 L177.96,254.53 L178.38,308.00 L178.38,248.14 L178.80,308.00 L178.80,227.86 L179.22,308.00 L179.22,280.54 L179.64,308.00 L179.64,259.41 L180.06,308.00 L180.06,251.14 L180.48,308.00 L180.48,245.42 L180.90,308.00 L180.90,248.84 L181.32,308.00 L181.32,212.60 L181.74,308.00 L181.74,274.24 L182.16,308.00 L182.16,267.07 L182.58,308.00 L182.58,227.04 L183.00,308.00 L183.00,254.08 L183.42,308.00 L183.42,255.51 L183.84,308.00 L183.84,241.86 L184.26,308.00 L184.26,249.42 L184.68,308.00 L184.68,257.65 L185.10,308.00 L185.10,250.08 L185.52,308.00 L185.52,235.69 L185.94,308.00 L185.94,275.21 L186.36,306.45 L186.36,268.19 L186.78,306.86 L186.78,281.70 L187.20,308.00 L187.20,266.61 L187.62,308.00 L187.62,258.40 L188.04,308.00 L188.04,216.92 L188.46,308.00 L188.46,223.10 L188.88,308.00 L188.88,272.78 L189.30,307.02 L189.30,248.69 L189.72,308.00 L189.72,241.79 L190.14,308.00 L190.14,231.68 L190.56,308.00 L190.56,278.52 L190.98,308.00 L190.98,279.90 L191.40,308.00 L191.40,218.78 L191.82,308.00 L191.82,271.61 L192.24,306.82 L192.24,210.56 L192.66,306.20 L192.66,280.77 L193.08,308.00 L193.08,235.02 L193.50,308.00 L193.50,221.16 L193.92,306.65 L193.92,251.53 L194.34,308.00 L194.34,220.02 L194.76,306.81 L194.76,248.36 L195.18,308.00 L195.18,222.52 L195.60,308.00 L195.60,281.61 L196.02,308.00 L196.02,253.58 L196.44,308.00 L196.44,256.69 L196.86,307.16 L196.86,243.04 L197.28,308.00 L197.28,268.71 L197.70,308.00 L197.70,241.86 L198.12,308.00 L198.12,276.94 L198.54,308.00 L198.54,271.31 L198.96,307.80 L198.96,251.58 L199.38,308.00 L199.38,282.38 L199.80,308.00 L199.80,241.38 L200.22,307.43 L200.22,282.41 L200.64,308.00 L200.64,231.68 L201.06,308.00 L201.06,286.28 L201.48,308.00 L201.48,272.99 L201.90,308.00 L201.90,245.83 L202.32,308.00 L202.32,246.49 L202.74,308.00 L202.74,272.88 L203.16,308.00 L203.16,280.19 L203.58,308.00 L203.58,254.58 L204.00,308.00 L204.00,272.89 L204.42,308.00 L204.42,273.10 L204.84,307.01 L204.84,275.32 L205.26,308.00 L205.26,258.04 L205.68,306.16 L205.68,257.84 L206.10,308.00 L206.10,257.12 L206.52,308.00 L206.52,295.09 L206.94,308.00 L206.94,289.80 L207.36,308.00 L207.36,284.31 L207.78,307.23 L207.78,275.20 L208.20,308.00 L208.20,282.93 L208.62,308.00 L208.62,290.40 L209.04,308.00 L209.04,295.12 L209.46,308.00 L209.46,285.33 L209.88,308.00 L209.88,288.24 L210.30,308.00 L210.30,263.11 L210.72,308.00 L210.72,276.84 L211.14,308.00 L211.14,280.61 L211.56,308.00 L211.56,264.75 L211.98,308.00 L211.98,286.84 L212.40,306.66 L212.40,285.86 L212.82,308.00 L212.82,269.84 L213.24,308.00 L213.24,279.49 L213.66,308.00 L213.66,264.17 L214.08,308.00 L214.08,290.50 L214.50,308.00 L214.50,274.11 L214.92,308.00 L214.92,294.84 L215.34,307.45 L215.34,233.21 L215.76,308.00 L215.76,257.42 L216.18,308.00 L216.18,291.42 L216.60,308.00 L216.60,281.77 L217.02,308.00 L217.02,258.17 L217.44,308.00 L217.44,294.68 L217.86,308.00 L217.86,287.46 L218.28,308.00 L218.28,239.82 L218.70,306.88 L218.70,295.37 L219.12,308.00 L219.12,288.46 L219.54,308.00 L219.54,289.77 L219.96,308.00 L219.96,292.21 L220.38,308.00 L220.38,264.75 L220.80,308.00 L220.80,276.64 L221.22,308.00 L221.22,275.69 L221.64,307.00 L221.64,274.07 L222.06,308.00 L222.06,298.96 L222.48,308.00 L222.48,270.27 L222.90,308.00 L222.90,248.98 L223.32,308.00 L223.32,296.34 L223.74,308.00 L223.74,275.40 L224.16,308.00 L224.16,284.24 L224.58,307.03 L224.58,271.94 L225.00,308.00 L225.00,280.82 L225.42,308.00 L225.42,296.90 L225.84,307.64 L225.84,280.69 L226.26,308.00 L226.26,265.26 L226.68,308.00 L226.68,290.23 L227.10,308.00 L227.10,296.04 L227.52,308.00 L227.52,268.40 L227.94,308.00 L227.94,293.86 L228.36,308.00 L228.36,291.90 L228.78,308.00 L228.78,294.47 L229.20,308.00 L229.20,292.07 L229.62,308.00 L229.62,296.14 L230.04,308.00 L230.04,293.98 L230.46,308.00 L230.46,292.94 L230.88,308.00 L230.88,257.12 L231.30,308.00 L231.30,293.67 L231.72,308.00 L231.72,295.98 L232.14,308.00 L232.14,258.00 L232.56,308.00 L232.56,298.20 L232.98,307.38 L232.98,300.12 L233.40,308.00 L233.40,284.06 L233.82,308.00 L233.82,245.16 L234.24,308.00 L234.24,298.70 L234.66,308.00 L234.66,301.80 L235.08,308.00 L235.08,297.06 L235.50,308.00 L235.50,298.47 L235.92,308.00 L235.92,300.69 L236.34,306.31 L236.34,290.07 L236.76,306.02 L236.76,299.81 L237.18,308.00 L237.18,295.04 L237.60,306.92 L237.60,295.50 L238.02,306.96 L238.02,298.52 L238.44,308.00 L238.44,266.02 L238.86,306.94 L238.86,286.38 L239.28,308.00 L239.28,294.71 L239.70,307.73 L239.70,301.80 L240.12,308.00 L240.12,301.89 L240.54,306.12 L240.54,295.73 L240.96,308.00 L240.96,289.24 L241.38,308.00 L241.38,297.56 L241.80,308.00 L241.80,286.01 L242.22,308.00 L242.22,256.10 L242.64,308.00 L242.64,268.22 L243.06,308.00 L243.06,294.81 L243.48,308.00 L243.48,291.20 L243.90,308.00 L243.90,284.08 L244.32,308.00 L244.32,293.79 L244.74,308.00 L244.74,297.63 L245.16,308.00 L245.16,272.38 L245.58,308.00 L245.58,288.13 L246.00,308.00 L246.00,295.05 L246.42,308.00 L246.42,299.05 L246.84,308.00 L246.84,308.00 L247.26,308.00 L247.26,308.00 L247.68,308.00 L247.68,308.00 L248.10,308.00 L248.10,308.00 L248.52,308.00 L248.52,308.00 L248.94,308.00 L248.94,308.00 L249.36,308.00 L249.36,308.00 L249.78,308.00 L249.78,308.00 L250.20,308.00 L250.20,308.00 L250.62,308.00 L250.62,308.00 L251.04,308.00 L251.04,308.00 L251.46,308.00 L251.46,308.00 L251.88,308.00 L251.88,308.00 L252.30,308.00 L252.30,308.00 L252.72,308.00 L252.72,308.00 L253.14,308.00 L253.14,308.00 L253.56,308.00 L253.56,308.00 L253.98,308.00 L253.98,308.00 L254.40,308.00 L254.40,308.00 L254.82,308.00 L254.82,308.00 L255.24,308.00 L255.24,308.00 L255.66,308.00 L255.66,308.00 L256.08,308.00 L256.08,308.00 L256.50,308.00 L256.50,308.00 L256.92,308.00 L256.92,308.00 L257.34,308.00 L257.34,308.00 L257.76,308.00 L257.76,308.00 L258.18,308.00 L258.18,308.00 L258.60,308.00 L258.60,308.00 L259.02,308.00 L259.02,308.00 L259.44,308.00 L259.44,308.00 L259.86,308.00 L259.86,308.00 L260.28,308.00 L260.28,308.00 L260.70,308.00 L260.70,308.00 L261.12,308.00 L261.12,308.00 L261.54,308.00 L261.54,308.00 L261.96,308.00 L261.96,308.00 L262.38,308.00 L262.38,308.00 L262.80,308.00 L262.80,308.00 L263.22,308.00 L263.22,308.00 L263.64,308.00 L263.64,308.00 L264.06,308.00 L264.06,308.00 L264.48,308.00 L264.48,308.00 L264.90,308.00 L264.90,308.00 L265.32,308.00 L265.32,308.00 L265.74,308.00 L265.74,308.00 L266.16,308.00 L266.16,308.00 L266.58,308.00 L266.58,308.00 L267.00,308.00 L267.00,308.00 L267.42,308.00 L267.42,308.00 L267.84,308.00 L267.84,308.00 L268.26,308.00 L268.26,308.00 L268.68,308.00 L268.68,308.00 L269.10,308.00 L269.10,308.00 L269.52,308.00 L269.52,308.00 L269.94,308.00 L269.94,308.00 L270.36,308.00 L270.36,308.00 L270.78,308.00 L270.78,308.00 L271.20,308.00 L271.20,308.00 L271.62,308.00 L271.62,308.00" fill="none" stroke="#1e9cd8" stroke-width="1.0" stroke-linejoin="round"/>
<text transform="translate(74.69,311.9) rotate(-90)" font-size="5.25" fill="#555" stroke="#555" stroke-width="0.22" text-anchor="end" font-family="Liberation Sans, sans-serif">1</text>
<text transform="translate(80.57,311.9) rotate(-90)" font-size="5.25" fill="#555" stroke="#555" stroke-width="0.22" text-anchor="end" font-family="Liberation Sans, sans-serif">174</text>
<text transform="translate(86.45,311.9) rotate(-90)" font-size="5.25" fill="#555" stroke="#555" stroke-width="0.22" text-anchor="end" font-family="Liberation Sans, sans-serif">347</text>
<text transform="translate(92.33,311.9) rotate(-90)" font-size="5.25" fill="#555" stroke="#555" stroke-width="0.22" text-anchor="end" font-family="Liberation Sans, sans-serif">520</text>
<text transform="translate(98.21,311.9) rotate(-90)" font-size="5.25" fill="#555" stroke="#555" stroke-width="0.22" text-anchor="end" font-family="Liberation Sans, sans-serif">693</text>
<text transform="translate(104.08,311.9) rotate(-90)" font-size="5.25" fill="#555" stroke="#555" stroke-width="0.22" text-anchor="end" font-family="Liberation Sans, sans-serif">866</text>
<text transform="translate(109.96,311.9) rotate(-90)" font-size="5.25" fill="#555" stroke="#555" stroke-width="0.22" text-anchor="end" font-family="Liberation Sans, sans-serif">1039</text>
<text transform="translate(115.84,311.9) rotate(-90)" font-size="5.25" fill="#555" stroke="#555" stroke-width="0.22" text-anchor="end" font-family="Liberation Sans, sans-serif">1212</text>
<text transform="translate(121.72,311.9) rotate(-90)" font-size="5.25" fill="#555" stroke="#555" stroke-width="0.22" text-anchor="end" font-family="Liberation Sans, sans-serif">1385</text>
<text transform="translate(127.60,311.9) rotate(-90)" font-size="5.25" fill="#555" stroke="#555" stroke-width="0.22" text-anchor="end" font-family="Liberation Sans, sans-serif">1558</text>
<text transform="translate(133.48,311.9) rotate(-90)" font-size="5.25" fill="#555" stroke="#555" stroke-width="0.22" text-anchor="end" font-family="Liberation Sans, sans-serif">1731</text>
<text transform="translate(139.36,311.9) rotate(-90)" font-size="5.25" fill="#555" stroke="#555" stroke-width="0.22" text-anchor="end" font-family="Liberation Sans, sans-serif">1904</text>
<text transform="translate(145.24,311.9) rotate(-90)" font-size="5.25" fill="#555" stroke="#555" stroke-width="0.22" text-anchor="end" font-family="Liberation Sans, sans-serif">2077</text>
<text transform="translate(151.12,311.9) rotate(-90)" font-size="5.25" fill="#555" stroke="#555" stroke-width="0.22" text-anchor="end" font-family="Liberation Sans, sans-serif">2250</text>
<text transform="translate(157.00,311.9) rotate(-90)" font-size="5.25" fill="#555" stroke="#555" stroke-width="0.22" text-anchor="end" font-family="Liberation Sans, sans-serif">2423</text>
<text transform="translate(162.87,311.9) rotate(-90)" font-size="5.25" fill="#555" stroke="#555" stroke-width="0.22" text-anchor="end" font-family="Liberation Sans, sans-serif">2596</text>
<text transform="translate(168.75,311.9) rotate(-90)" font-size="5.25" fill="#555" stroke="#555" stroke-width="0.22" text-anchor="end" font-family="Liberation Sans, sans-serif">2769</text>
<text transform="translate(174.63,311.9) rotate(-90)" font-size="5.25" fill="#555" stroke="#555" stroke-width="0.22" text-anchor="end" font-family="Liberation Sans, sans-serif">2942</text>
<text transform="translate(180.51,311.9) rotate(-90)" font-size="5.25" fill="#555" stroke="#555" stroke-width="0.22" text-anchor="end" font-family="Liberation Sans, sans-serif">3115</text>
<text transform="translate(186.39,311.9) rotate(-90)" font-size="5.25" fill="#555" stroke="#555" stroke-width="0.22" text-anchor="end" font-family="Liberation Sans, sans-serif">3288</text>
<text transform="translate(192.27,311.9) rotate(-90)" font-size="5.25" fill="#555" stroke="#555" stroke-width="0.22" text-anchor="end" font-family="Liberation Sans, sans-serif">3461</text>
<text transform="translate(198.15,311.9) rotate(-90)" font-size="5.25" fill="#555" stroke="#555" stroke-width="0.22" text-anchor="end" font-family="Liberation Sans, sans-serif">3634</text>
<text transform="translate(204.03,311.9) rotate(-90)" font-size="5.25" fill="#555" stroke="#555" stroke-width="0.22" text-anchor="end" font-family="Liberation Sans, sans-serif">3807</text>
<text transform="translate(209.91,311.9) rotate(-90)" font-size="5.25" fill="#555" stroke="#555" stroke-width="0.22" text-anchor="end" font-family="Liberation Sans, sans-serif">3980</text>
<text transform="translate(215.79,311.9) rotate(-90)" font-size="5.25" fill="#555" stroke="#555" stroke-width="0.22" text-anchor="end" font-family="Liberation Sans, sans-serif">4153</text>
<text transform="translate(221.66,311.9) rotate(-90)" font-size="5.25" fill="#555" stroke="#555" stroke-width="0.22" text-anchor="end" font-family="Liberation Sans, sans-serif">4326</text>
<text transform="translate(227.54,311.9) rotate(-90)" font-size="5.25" fill="#555" stroke="#555" stroke-width="0.22" text-anchor="end" font-family="Liberation Sans, sans-serif">4499</text>
<text transform="translate(233.42,311.9) rotate(-90)" font-size="5.25" fill="#555" stroke="#555" stroke-width="0.22" text-anchor="end" font-family="Liberation Sans, sans-serif">4672</text>
<text transform="translate(239.30,311.9) rotate(-90)" font-size="5.25" fill="#555" stroke="#555" stroke-width="0.22" text-anchor="end" font-family="Liberation Sans, sans-serif">4845</text>
<text transform="translate(245.18,311.9) rotate(-90)" font-size="5.25" fill="#555" stroke="#555" stroke-width="0.22" text-anchor="end" font-family="Liberation Sans, sans-serif">5018</text>
<text transform="translate(251.06,311.9) rotate(-90)" font-size="5.25" fill="#555" stroke="#555" stroke-width="0.22" text-anchor="end" font-family="Liberation Sans, sans-serif">5191</text>
<text transform="translate(256.94,311.9) rotate(-90)" font-size="5.25" fill="#555" stroke="#555" stroke-width="0.22" text-anchor="end" font-family="Liberation Sans, sans-serif">5364</text>
<text transform="translate(262.82,311.9) rotate(-90)" font-size="5.25" fill="#555" stroke="#555" stroke-width="0.22" text-anchor="end" font-family="Liberation Sans, sans-serif">5537</text>
<text transform="translate(268.70,311.9) rotate(-90)" font-size="5.25" fill="#555" stroke="#555" stroke-width="0.22" text-anchor="end" font-family="Liberation Sans, sans-serif">5710</text>
<text x="164" y="182" font-size="8.25" fill="#222" stroke="#222" stroke-width="0.12" text-anchor="middle" xml:space="preserve">Elbow  extension</text>
<text x="72" y="309.70" font-size="7.8" fill="#222" stroke="#222" stroke-width="0.22" text-anchor="end">0</text>
<text x="72" y="296.98" font-size="7.8" fill="#222" stroke="#222" stroke-width="0.22" text-anchor="end" textLength="38.2" lengthAdjust="spacingAndGlyphs">0.5 × 10<tspan dy="-2.96" font-size="4.84">−4</tspan></text>
<text x="72" y="284.26" font-size="7.8" fill="#222" stroke="#222" stroke-width="0.22" text-anchor="end" textLength="38.2" lengthAdjust="spacingAndGlyphs">1.0 × 10<tspan dy="-2.96" font-size="4.84">−4</tspan></text>
<text x="72" y="271.54" font-size="7.8" fill="#222" stroke="#222" stroke-width="0.22" text-anchor="end" textLength="38.2" lengthAdjust="spacingAndGlyphs">1.5 × 10<tspan dy="-2.96" font-size="4.84">−4</tspan></text>
<text x="72" y="258.82" font-size="7.8" fill="#222" stroke="#222" stroke-width="0.22" text-anchor="end" textLength="38.2" lengthAdjust="spacingAndGlyphs">2.0 × 10<tspan dy="-2.96" font-size="4.84">−4</tspan></text>
<text x="72" y="246.10" font-size="7.8" fill="#222" stroke="#222" stroke-width="0.22" text-anchor="end" textLength="38.2" lengthAdjust="spacingAndGlyphs">2.5 × 10<tspan dy="-2.96" font-size="4.84">−4</tspan></text>
<text x="72" y="233.38" font-size="7.8" fill="#222" stroke="#222" stroke-width="0.22" text-anchor="end" textLength="38.2" lengthAdjust="spacingAndGlyphs">3.0 × 10<tspan dy="-2.96" font-size="4.84">−4</tspan></text>
<text x="72" y="220.66" font-size="7.8" fill="#222" stroke="#222" stroke-width="0.22" text-anchor="end" textLength="38.2" lengthAdjust="spacingAndGlyphs">3.5 × 10<tspan dy="-2.96" font-size="4.84">−4</tspan></text>
<text x="72" y="207.94" font-size="7.8" fill="#222" stroke="#222" stroke-width="0.22" text-anchor="end" textLength="38.2" lengthAdjust="spacingAndGlyphs">4.0 × 10<tspan dy="-2.96" font-size="4.84">−4</tspan></text>
<text x="72" y="195.22" font-size="7.8" fill="#222" stroke="#222" stroke-width="0.22" text-anchor="end" textLength="38.2" lengthAdjust="spacingAndGlyphs">4.5 × 10<tspan dy="-2.96" font-size="4.84">−4</tspan></text>
<text x="178" y="336" font-size="9.5" fill="#333" text-anchor="middle">samples</text>
<text transform="translate(16.5,147.5) rotate(90)" font-size="9.5" fill="#222" textLength="37" lengthAdjust="spacingAndGlyphs">Voltage/v</text>
<text x="142.5" y="355.6" font-size="11" fill="#111" text-anchor="middle">(<tspan font-weight="bold">a</tspan>)</text>
<path d="M296.5,145.1 H546.7 V5" fill="none" stroke="#9a9a9a" stroke-width="1.2" opacity="0.6"/>
<rect x="295.2" y="3.7" width="250.6" height="140.4" fill="#fff" stroke="#111" stroke-width="1.45"/>
<line x1="344.2" x2="542" y1="119.50" y2="119.50" stroke="#d9d9d9" stroke-width="0.8"/>
<line x1="344.2" x2="542" y1="100.90" y2="100.90" stroke="#d9d9d9" stroke-width="0.8"/>
<line x1="344.2" x2="542" y1="82.30" y2="82.30" stroke="#d9d9d9" stroke-width="0.8"/>
<line x1="344.2" x2="542" y1="63.70" y2="63.70" stroke="#d9d9d9" stroke-width="0.8"/>
<line x1="344.2" x2="542" y1="45.10" y2="45.10" stroke="#d9d9d9" stroke-width="0.8"/>
<line x1="344.2" x2="542" y1="26.50" y2="26.50" stroke="#d9d9d9" stroke-width="0.8"/>
<path d="M342.20,119.50 L342.20,119.50 L342.62,119.50 L342.62,119.50 L343.04,119.50 L343.04,119.50 L343.46,119.50 L343.46,119.50 L343.88,119.50 L343.88,119.50 L344.30,119.50 L344.30,119.50 L344.72,119.50 L344.72,119.50 L345.14,119.50 L345.14,119.50 L345.56,119.50 L345.56,119.50 L345.98,112.56 L345.98,107.35 L346.40,113.15 L346.40,105.69 L346.82,119.47 L346.82,105.77 L347.24,112.41 L347.24,107.15 L347.66,112.72 L347.66,106.24 L348.08,119.21 L348.08,106.99 L348.50,112.43 L348.50,105.11 L348.92,117.31 L348.92,101.30 L349.34,112.06 L349.34,106.06 L349.76,112.64 L349.76,105.38 L350.18,112.06 L350.18,105.05 L350.60,113.88 L350.60,105.67 L351.02,119.44 L351.02,107.22 L351.44,113.47 L351.44,106.28 L351.86,113.87 L351.86,105.25 L352.28,112.27 L352.28,107.86 L352.70,119.34 L352.70,106.88 L353.12,113.83 L353.12,106.07 L353.54,113.36 L353.54,105.16 L353.96,113.94 L353.96,107.67 L354.38,113.20 L354.38,100.04 L354.80,112.31 L354.80,105.44 L355.22,113.06 L355.22,107.91 L355.64,112.98 L355.64,103.03 L356.06,113.07 L356.06,106.98 L356.48,114.12 L356.48,106.75 L356.90,118.26 L356.90,106.00 L357.32,114.21 L357.32,105.71 L357.74,113.63 L357.74,105.07 L358.16,119.28 L358.16,106.89 L358.58,112.19 L358.58,105.55 L359.00,119.47 L359.00,105.56 L359.42,112.50 L359.42,105.56 L359.84,115.34 L359.84,106.27 L360.26,113.90 L360.26,105.03 L360.68,113.36 L360.68,106.03 L361.10,112.13 L361.10,106.88 L361.52,113.09 L361.52,106.08 L361.94,114.21 L361.94,106.49 L362.36,113.41 L362.36,105.72 L362.78,112.55 L362.78,106.71 L363.20,112.88 L363.20,106.35 L363.62,112.36 L363.62,107.56 L364.04,113.58 L364.04,105.00 L364.46,113.28 L364.46,105.81 L364.88,113.37 L364.88,106.91 L365.30,113.41 L365.30,107.24 L365.72,119.38 L365.72,107.79 L366.14,112.84 L366.14,105.66 L366.56,112.42 L366.56,105.79 L366.98,113.50 L366.98,107.47 L367.40,114.27 L367.40,107.43 L367.82,114.14 L367.82,105.74 L368.24,112.38 L368.24,107.40 L368.66,116.31 L368.66,107.49 L369.08,113.36 L369.08,106.18 L369.50,112.91 L369.50,106.96 L369.92,112.73 L369.92,107.71 L370.34,119.32 L370.34,105.46 L370.76,112.55 L370.76,106.26 L371.18,114.04 L371.18,101.42 L371.60,113.64 L371.60,107.40 L372.02,119.12 L372.02,106.70 L372.44,114.27 L372.44,105.33 L372.86,113.12 L372.86,106.93 L373.28,119.30 L373.28,105.98 L373.70,112.52 L373.70,107.73 L374.12,113.87 L374.12,102.63 L374.54,116.17 L374.54,105.84 L374.96,112.36 L374.96,105.25 L375.38,114.13 L375.38,94.95 L375.80,113.36 L375.80,106.85 L376.22,117.11 L376.22,100.04 L376.64,119.48 L376.64,106.40 L377.06,115.29 L377.06,106.57 L377.48,114.15 L377.48,105.83 L377.90,114.05 L377.90,105.63 L378.32,113.52 L378.32,105.55 L378.74,118.89 L378.74,105.33 L379.16,113.73 L379.16,107.38 L379.58,113.53 L379.58,106.81 L380.00,113.94 L380.00,107.30 L380.42,116.21 L380.42,107.09 L380.84,112.78 L380.84,105.37 L381.26,113.45 L381.26,101.56 L381.68,119.37 L381.68,106.95 L382.10,112.87 L382.10,105.30 L382.52,113.00 L382.52,106.22 L382.94,112.34 L382.94,106.22 L383.36,113.75 L383.36,105.49 L383.78,112.91 L383.78,107.84 L384.20,113.37 L384.20,106.07 L384.62,113.85 L384.62,107.35 L385.04,112.92 L385.04,106.48 L385.46,119.11 L385.46,102.35 L385.88,119.44 L385.88,105.17 L386.30,113.11 L386.30,105.54 L386.72,112.51 L386.72,105.45 L387.14,112.48 L387.14,106.64 L387.56,119.50 L387.56,105.37 L387.98,115.70 L387.98,107.73 L388.40,118.01 L388.40,101.17 L388.82,115.26 L388.82,105.47 L389.24,117.13 L389.24,107.18 L389.66,113.46 L389.66,107.50 L390.08,118.76 L390.08,99.04 L390.50,112.48 L390.50,105.76 L390.92,113.37 L390.92,107.70 L391.34,119.24 L391.34,100.42 L391.76,112.94 L391.76,106.40 L392.18,113.53 L392.18,107.60 L392.60,116.43 L392.60,106.43 L393.02,113.71 L393.02,105.80 L393.44,115.82 L393.44,106.57 L393.86,112.98 L393.86,105.32 L394.28,113.31 L394.28,106.39 L394.70,113.03 L394.70,105.72 L395.12,112.06 L395.12,105.05 L395.54,116.88 L395.54,105.18 L395.96,116.04 L395.96,107.87 L396.38,112.54 L396.38,107.50 L396.80,112.51 L396.80,106.88 L397.22,112.56 L397.22,106.25 L397.64,112.41 L397.64,107.73 L398.06,113.02 L398.06,105.84 L398.48,112.23 L398.48,105.77 L398.90,114.08 L398.90,105.18 L399.32,113.44 L399.32,107.96 L399.74,119.36 L399.74,106.33 L400.16,113.14 L400.16,107.02 L400.58,118.44 L400.58,105.51 L401.00,114.03 L401.00,105.67 L401.42,112.09 L401.42,107.87 L401.84,115.64 L401.84,107.42 L402.26,113.81 L402.26,106.11 L402.68,113.62 L402.68,105.78 L403.10,118.67 L403.10,107.89 L403.52,119.49 L403.52,106.08 L403.94,113.62 L403.94,99.04 L404.36,115.48 L404.36,107.14 L404.78,112.85 L404.78,106.12 L405.20,119.50 L405.20,109.03 L405.62,119.50 L405.62,111.67 L406.04,116.51 L406.04,101.03 L406.46,119.50 L406.46,107.68 L406.88,115.96 L406.88,97.18 L407.30,119.50 L407.30,105.85 L407.72,119.50 L407.72,109.64 L408.14,119.50 L408.14,106.41 L408.56,119.50 L408.56,101.53 L408.98,119.50 L408.98,99.82 L409.40,119.50 L409.40,89.74 L409.82,119.50 L409.82,93.62 L410.24,119.50 L410.24,99.91 L410.66,119.50 L410.66,97.82 L411.08,119.50 L411.08,102.01 L411.50,119.50 L411.50,104.58 L411.92,119.50 L411.92,94.95 L412.34,119.50 L412.34,101.54 L412.76,119.50 L412.76,96.87 L413.18,119.50 L413.18,108.37 L413.60,119.50 L413.60,94.91 L414.02,119.50 L414.02,110.82 L414.44,116.31 L414.44,95.83 L414.86,119.50 L414.86,103.71 L415.28,119.50 L415.28,97.37 L415.70,119.50 L415.70,103.21 L416.12,116.18 L416.12,105.98 L416.54,119.50 L416.54,88.25 L416.96,119.50 L416.96,108.15 L417.38,119.09 L417.38,103.95 L417.80,118.28 L417.80,109.47 L418.22,119.50 L418.22,88.25 L418.64,118.51 L418.64,109.78 L419.06,119.50 L419.06,93.43 L419.48,119.50 L419.48,95.42 L419.90,119.50 L419.90,102.16 L420.32,117.86 L420.32,97.55 L420.74,119.50 L420.74,96.37 L421.16,119.50 L421.16,88.62 L421.58,119.50 L421.58,99.45 L422.00,119.50 L422.00,91.55 L422.42,119.50 L422.42,104.36 L422.84,119.50 L422.84,100.65 L423.26,119.50 L423.26,94.22 L423.68,119.50 L423.68,96.36 L424.10,119.50 L424.10,107.28 L424.52,119.50 L424.52,82.30 L424.94,119.50 L424.94,100.46 L425.36,119.50 L425.36,107.06 L425.78,119.50 L425.78,89.54 L426.20,119.50 L426.20,95.18 L426.62,119.50 L426.62,83.54 L427.04,119.50 L427.04,71.14 L427.46,118.28 L427.46,94.14 L427.88,119.50 L427.88,105.05 L428.30,117.99 L428.30,93.72 L428.72,119.50 L428.72,87.42 L429.14,119.50 L429.14,78.82 L429.56,119.50 L429.56,76.60 L429.98,119.50 L429.98,63.70 L430.40,116.36 L430.40,89.57 L430.82,119.50 L430.82,75.47 L431.24,119.50 L431.24,80.48 L431.66,119.50 L431.66,101.71 L432.08,119.50 L432.08,65.93 L432.50,119.50 L432.50,97.32 L432.92,119.50 L432.92,81.97 L433.34,119.50 L433.34,71.14 L433.76,117.67 L433.76,91.55 L434.18,119.50 L434.18,89.90 L434.60,119.50 L434.60,88.93 L435.02,115.14 L435.02,46.59 L435.44,116.73 L435.44,98.61 L435.86,119.50 L435.86,103.88 L436.28,119.50 L436.28,74.18 L436.70,119.50 L436.70,74.86 L437.12,119.50 L437.12,103.57 L437.54,119.50 L437.54,84.57 L437.96,119.50 L437.96,99.61 L438.38,119.50 L438.38,81.98 L438.80,116.46 L438.80,76.35 L439.22,119.50 L439.22,87.23 L439.64,119.50 L439.64,101.33 L440.06,119.50 L440.06,81.79 L440.48,119.50 L440.48,92.87 L440.90,119.50 L440.90,92.97 L441.32,119.50 L441.32,93.57 L441.74,119.50 L441.74,64.44 L442.16,118.84 L442.16,93.29 L442.58,119.50 L442.58,98.16 L443.00,119.50 L443.00,86.48 L443.42,115.38 L443.42,101.20 L443.84,116.41 L443.84,82.30 L444.26,116.99 L444.26,109.12 L444.68,119.09 L444.68,102.59 L445.10,117.85 L445.10,107.39 L445.52,119.50 L445.52,109.06 L445.94,119.50 L445.94,67.42 L446.36,119.50 L446.36,80.52 L446.78,119.50 L446.78,100.62 L447.20,119.50 L447.20,107.31 L447.62,119.50 L447.62,100.19 L448.04,119.50 L448.04,97.81 L448.46,119.50 L448.46,92.08 L448.88,119.50 L448.88,86.02 L449.30,119.50 L449.30,98.45 L449.72,119.50 L449.72,109.84 L450.14,119.50 L450.14,109.00 L450.56,119.50 L450.56,102.90 L450.98,119.50 L450.98,91.71 L451.40,115.92 L451.40,84.16 L451.82,119.50 L451.82,104.11 L452.24,119.50 L452.24,101.68 L452.66,119.50 L452.66,110.21 L453.08,119.50 L453.08,104.86 L453.50,119.50 L453.50,110.01 L453.92,119.50 L453.92,70.77 L454.34,119.50 L454.34,81.24 L454.76,119.50 L454.76,104.84 L455.18,119.50 L455.18,111.07 L455.60,119.50 L455.60,98.02 L456.02,116.30 L456.02,87.88 L456.44,119.50 L456.44,105.45 L456.86,119.50 L456.86,99.10 L457.28,117.64 L457.28,102.22 L457.70,119.31 L457.70,93.93 L458.12,119.50 L458.12,106.04 L458.54,119.50 L458.54,99.93 L458.96,119.50 L458.96,96.66 L459.38,119.50 L459.38,85.28 L459.80,119.50 L459.80,98.53 L460.22,119.50 L460.22,102.55 L460.64,116.67 L460.64,107.33 L461.06,119.50 L461.06,111.22 L461.48,119.50 L461.48,111.24 L461.90,119.50 L461.90,91.60 L462.32,119.50 L462.32,106.40 L462.74,119.50 L462.74,100.97 L463.16,115.51 L463.16,103.97 L463.58,119.50 L463.58,104.41 L464.00,119.50 L464.00,92.36 L464.42,119.50 L464.42,105.29 L464.84,119.50 L464.84,95.97 L465.26,119.17 L465.26,85.28 L465.68,115.78 L465.68,107.04 L466.10,119.50 L466.10,112.15 L466.52,116.19 L466.52,110.69 L466.94,119.50 L466.94,106.40 L467.36,119.50 L467.36,97.48 L467.78,119.50 L467.78,97.43 L468.20,119.50 L468.20,101.98 L468.62,119.50 L468.62,95.73 L469.04,119.50 L469.04,92.06 L469.46,119.50 L469.46,101.30 L469.88,119.50 L469.88,105.78 L470.30,117.78 L470.30,103.05 L470.72,119.50 L470.72,102.22 L471.14,115.73 L471.14,94.58 L471.56,119.50 L471.56,109.61 L471.98,119.50 L471.98,109.14 L472.40,119.50 L472.40,107.28 L472.82,118.64 L472.82,101.44 L473.24,119.50 L473.24,99.28 L473.66,115.19 L473.66,103.79 L474.08,117.61 L474.08,93.46 L474.50,119.50 L474.50,93.07 L474.92,119.50 L474.92,110.42 L475.34,119.50 L475.34,109.31 L475.76,119.50 L475.76,112.09 L476.18,119.50 L476.18,90.45 L476.60,119.50 L476.60,104.34 L477.02,119.50 L477.02,85.28 L477.44,118.10 L477.44,100.24 L477.86,116.92 L477.86,101.16 L478.28,118.21 L478.28,103.79 L478.70,119.50 L478.70,97.01 L479.12,119.50 L479.12,101.76 L479.54,116.73 L479.54,91.29 L479.96,119.50 L479.96,102.07 L480.38,119.50 L480.38,102.27 L480.80,119.50 L480.80,93.46 L481.22,119.50 L481.22,107.75 L481.64,119.50 L481.64,100.67 L482.06,117.62 L482.06,106.58 L482.48,119.50 L482.48,99.33 L482.90,117.02 L482.90,100.05 L483.32,119.50 L483.32,104.96 L483.74,119.50 L483.74,106.12 L484.16,118.88 L484.16,93.46 L484.58,119.50 L484.58,96.68 L485.00,119.50 L485.00,93.75 L485.42,116.55 L485.42,95.72 L485.84,117.33 L485.84,94.87 L486.26,119.50 L486.26,102.67 L486.68,119.50 L486.68,104.84 L487.10,117.85 L487.10,108.61 L487.52,119.50 L487.52,107.70 L487.94,119.50 L487.94,87.14 L488.36,119.50 L488.36,111.52 L488.78,119.50 L488.78,112.84 L489.20,116.77 L489.20,99.12 L489.62,119.50 L489.62,106.54 L490.04,116.72 L490.04,92.86 L490.46,119.50 L490.46,106.55 L490.88,117.02 L490.88,92.32 L491.30,119.50 L491.30,112.05 L491.72,119.50 L491.72,105.75 L492.14,119.50 L492.14,93.46 L492.56,119.50 L492.56,108.68 L492.98,119.50 L492.98,103.49 L493.40,119.50 L493.40,108.79 L493.82,119.50 L493.82,97.68 L494.24,119.50 L494.24,103.51 L494.66,119.50 L494.66,96.22 L495.08,119.50 L495.08,107.73 L495.50,119.50 L495.50,87.88 L495.92,119.50 L495.92,105.60 L496.34,119.50 L496.34,103.13 L496.76,119.50 L496.76,96.47 L497.18,119.40 L497.18,104.13 L497.60,119.50 L497.60,100.53 L498.02,119.50 L498.02,102.78 L498.44,119.50 L498.44,103.79 L498.86,118.71 L498.86,104.98 L499.28,119.50 L499.28,119.50 L499.70,119.50 L499.70,119.50 L500.12,119.50 L500.12,119.50 L500.54,119.50 L500.54,119.50 L500.96,119.50 L500.96,119.50 L501.38,119.50 L501.38,119.50 L501.80,119.50 L501.80,119.50 L502.22,119.50 L502.22,119.50 L502.64,119.50 L502.64,119.50 L503.06,119.50 L503.06,119.50 L503.48,119.50 L503.48,119.50 L503.90,119.50 L503.90,119.50 L504.32,119.50 L504.32,119.50 L504.74,119.50 L504.74,119.50 L505.16,119.50 L505.16,119.50 L505.58,119.50 L505.58,119.50 L506.00,119.50 L506.00,119.50 L506.42,119.50 L506.42,119.50 L506.84,119.50 L506.84,119.50 L507.26,119.50 L507.26,119.50 L507.68,119.50 L507.68,119.50 L508.10,119.50 L508.10,119.50 L508.52,119.50 L508.52,119.50 L508.94,119.50 L508.94,119.50 L509.36,119.50 L509.36,119.50 L509.78,119.50 L509.78,119.50 L510.20,119.50 L510.20,119.50 L510.62,119.50 L510.62,119.50 L511.04,119.50 L511.04,119.50 L511.46,119.50 L511.46,119.50 L511.88,119.50 L511.88,119.50 L512.30,119.50 L512.30,119.50 L512.72,119.50 L512.72,119.50 L513.14,119.50 L513.14,119.50 L513.56,119.50 L513.56,119.50 L513.98,119.50 L513.98,119.50 L514.40,119.50 L514.40,119.50 L514.82,119.50 L514.82,119.50 L515.24,119.50 L515.24,119.50 L515.66,119.50 L515.66,119.50 L516.08,119.50 L516.08,119.50 L516.50,119.50 L516.50,119.50 L516.92,119.50 L516.92,119.50 L517.34,119.50 L517.34,119.50 L517.76,119.50 L517.76,119.50 L518.18,119.50 L518.18,119.50 L518.60,119.50 L518.60,119.50 L519.02,119.50 L519.02,119.50 L519.44,119.50 L519.44,119.50 L519.86,119.50 L519.86,119.50 L520.28,119.50 L520.28,119.50 L520.70,119.50 L520.70,119.50 L521.12,119.50 L521.12,119.50 L521.54,119.50 L521.54,119.50 L521.96,119.50 L521.96,119.50 L522.38,119.50 L522.38,119.50 L522.80,119.50 L522.80,119.50 L523.22,119.50 L523.22,119.50 L523.64,119.50 L523.64,119.50 L524.06,119.50 L524.06,119.50 L524.48,119.50 L524.48,119.50 L524.90,119.50 L524.90,119.50 L525.32,119.50 L525.32,119.50 L525.74,119.50 L525.74,119.50 L526.16,119.50 L526.16,119.50 L526.58,119.50 L526.58,119.50 L527.00,119.50 L527.00,119.50 L527.42,119.50 L527.42,119.50 L527.84,119.50 L527.84,119.50 L528.26,119.50 L528.26,119.50 L528.68,119.50 L528.68,119.50 L529.10,119.50 L529.10,119.50 L529.52,119.50 L529.52,119.50 L529.94,119.50 L529.94,119.50 L530.36,119.50 L530.36,119.50 L530.78,119.50 L530.78,119.50 L531.20,119.50 L531.20,119.50 L531.62,119.50 L531.62,119.50 L532.04,119.50 L532.04,119.50 L532.46,119.50 L532.46,119.50 L532.88,119.50 L532.88,119.50 L533.30,119.50 L533.30,119.50 L533.72,119.50 L533.72,119.50 L534.14,119.50 L534.14,119.50 L534.56,119.50 L534.56,119.50 L534.98,119.50 L534.98,119.50 L535.40,119.50 L535.40,119.50 L535.82,119.50 L535.82,119.50 L536.24,119.50 L536.24,119.50 L536.66,119.50 L536.66,119.50 L537.08,119.50 L537.08,119.50 L537.50,119.50 L537.50,119.50 L537.92,119.50 L537.92,119.50 L538.34,119.50 L538.34,119.50 L538.76,119.50 L538.76,119.50 L539.18,119.50 L539.18,119.50 L539.60,119.50 L539.60,119.50 L540.02,119.50 L540.02,119.50 L540.44,119.50 L540.44,119.50 L540.86,119.50 L540.86,119.50 L541.28,119.50 L541.28,119.50 L541.70,119.50 L541.70,119.50 L542.12,119.50 L542.12,119.50" fill="none" stroke="#1e9cd8" stroke-width="0.8" stroke-linejoin="round"/>
<text transform="translate(344.70,122.8) rotate(-90)" font-size="5.0" fill="#2a2a2a" stroke="#2a2a2a" stroke-width="0.28" text-anchor="end" font-family="Liberation Serif, serif">1</text>
<text transform="translate(350.58,122.8) rotate(-90)" font-size="5.0" fill="#2a2a2a" stroke="#2a2a2a" stroke-width="0.28" text-anchor="end" font-family="Liberation Serif, serif">171</text>
<text transform="translate(356.46,122.8) rotate(-90)" font-size="5.0" fill="#2a2a2a" stroke="#2a2a2a" stroke-width="0.28" text-anchor="end" font-family="Liberation Serif, serif">341</text>
<text transform="translate(362.34,122.8) rotate(-90)" font-size="5.0" fill="#2a2a2a" stroke="#2a2a2a" stroke-width="0.28" text-anchor="end" font-family="Liberation Serif, serif">511</text>
<text transform="translate(368.22,122.8) rotate(-90)" font-size="5.0" fill="#2a2a2a" stroke="#2a2a2a" stroke-width="0.28" text-anchor="end" font-family="Liberation Serif, serif">681</text>
<text transform="translate(374.10,122.8) rotate(-90)" font-size="5.0" fill="#2a2a2a" stroke="#2a2a2a" stroke-width="0.28" text-anchor="end" font-family="Liberation Serif, serif">851</text>
<text transform="translate(379.98,122.8) rotate(-90)" font-size="5.0" fill="#2a2a2a" stroke="#2a2a2a" stroke-width="0.28" text-anchor="end" font-family="Liberation Serif, serif">1021</text>
<text transform="translate(385.86,122.8) rotate(-90)" font-size="5.0" fill="#2a2a2a" stroke="#2a2a2a" stroke-width="0.28" text-anchor="end" font-family="Liberation Serif, serif">1191</text>
<text transform="translate(391.74,122.8) rotate(-90)" font-size="5.0" fill="#2a2a2a" stroke="#2a2a2a" stroke-width="0.28" text-anchor="end" font-family="Liberation Serif, serif">1361</text>
<text transform="translate(397.62,122.8) rotate(-90)" font-size="5.0" fill="#2a2a2a" stroke="#2a2a2a" stroke-width="0.28" text-anchor="end" font-family="Liberation Serif, serif">1531</text>
<text transform="translate(403.50,122.8) rotate(-90)" font-size="5.0" fill="#2a2a2a" stroke="#2a2a2a" stroke-width="0.28" text-anchor="end" font-family="Liberation Serif, serif">1701</text>
<text transform="translate(409.38,122.8) rotate(-90)" font-size="5.0" fill="#2a2a2a" stroke="#2a2a2a" stroke-width="0.28" text-anchor="end" font-family="Liberation Serif, serif">1871</text>
<text transform="translate(415.26,122.8) rotate(-90)" font-size="5.0" fill="#2a2a2a" stroke="#2a2a2a" stroke-width="0.28" text-anchor="end" font-family="Liberation Serif, serif">2041</text>
<text transform="translate(421.14,122.8) rotate(-90)" font-size="5.0" fill="#2a2a2a" stroke="#2a2a2a" stroke-width="0.28" text-anchor="end" font-family="Liberation Serif, serif">2211</text>
<text transform="translate(427.02,122.8) rotate(-90)" font-size="5.0" fill="#2a2a2a" stroke="#2a2a2a" stroke-width="0.28" text-anchor="end" font-family="Liberation Serif, serif">2381</text>
<text transform="translate(432.90,122.8) rotate(-90)" font-size="5.0" fill="#2a2a2a" stroke="#2a2a2a" stroke-width="0.28" text-anchor="end" font-family="Liberation Serif, serif">2551</text>
<text transform="translate(438.78,122.8) rotate(-90)" font-size="5.0" fill="#2a2a2a" stroke="#2a2a2a" stroke-width="0.28" text-anchor="end" font-family="Liberation Serif, serif">2721</text>
<text transform="translate(444.66,122.8) rotate(-90)" font-size="5.0" fill="#2a2a2a" stroke="#2a2a2a" stroke-width="0.28" text-anchor="end" font-family="Liberation Serif, serif">2891</text>
<text transform="translate(450.54,122.8) rotate(-90)" font-size="5.0" fill="#2a2a2a" stroke="#2a2a2a" stroke-width="0.28" text-anchor="end" font-family="Liberation Serif, serif">3061</text>
<text transform="translate(456.42,122.8) rotate(-90)" font-size="5.0" fill="#2a2a2a" stroke="#2a2a2a" stroke-width="0.28" text-anchor="end" font-family="Liberation Serif, serif">3231</text>
<text transform="translate(462.30,122.8) rotate(-90)" font-size="5.0" fill="#2a2a2a" stroke="#2a2a2a" stroke-width="0.28" text-anchor="end" font-family="Liberation Serif, serif">3401</text>
<text transform="translate(468.18,122.8) rotate(-90)" font-size="5.0" fill="#2a2a2a" stroke="#2a2a2a" stroke-width="0.28" text-anchor="end" font-family="Liberation Serif, serif">3571</text>
<text transform="translate(474.06,122.8) rotate(-90)" font-size="5.0" fill="#2a2a2a" stroke="#2a2a2a" stroke-width="0.28" text-anchor="end" font-family="Liberation Serif, serif">3741</text>
<text transform="translate(479.94,122.8) rotate(-90)" font-size="5.0" fill="#2a2a2a" stroke="#2a2a2a" stroke-width="0.28" text-anchor="end" font-family="Liberation Serif, serif">3911</text>
<text transform="translate(485.82,122.8) rotate(-90)" font-size="5.0" fill="#2a2a2a" stroke="#2a2a2a" stroke-width="0.28" text-anchor="end" font-family="Liberation Serif, serif">4081</text>
<text transform="translate(491.70,122.8) rotate(-90)" font-size="5.0" fill="#2a2a2a" stroke="#2a2a2a" stroke-width="0.28" text-anchor="end" font-family="Liberation Serif, serif">4251</text>
<text transform="translate(497.58,122.8) rotate(-90)" font-size="5.0" fill="#2a2a2a" stroke="#2a2a2a" stroke-width="0.28" text-anchor="end" font-family="Liberation Serif, serif">4421</text>
<text transform="translate(503.46,122.8) rotate(-90)" font-size="5.0" fill="#2a2a2a" stroke="#2a2a2a" stroke-width="0.28" text-anchor="end" font-family="Liberation Serif, serif">4591</text>
<text transform="translate(509.34,122.8) rotate(-90)" font-size="5.0" fill="#2a2a2a" stroke="#2a2a2a" stroke-width="0.28" text-anchor="end" font-family="Liberation Serif, serif">4761</text>
<text transform="translate(515.22,122.8) rotate(-90)" font-size="5.0" fill="#2a2a2a" stroke="#2a2a2a" stroke-width="0.28" text-anchor="end" font-family="Liberation Serif, serif">4931</text>
<text transform="translate(521.10,122.8) rotate(-90)" font-size="5.0" fill="#2a2a2a" stroke="#2a2a2a" stroke-width="0.28" text-anchor="end" font-family="Liberation Serif, serif">5101</text>
<text transform="translate(526.98,122.8) rotate(-90)" font-size="5.0" fill="#2a2a2a" stroke="#2a2a2a" stroke-width="0.28" text-anchor="end" font-family="Liberation Serif, serif">5271</text>
<text transform="translate(532.86,122.8) rotate(-90)" font-size="5.0" fill="#2a2a2a" stroke="#2a2a2a" stroke-width="0.28" text-anchor="end" font-family="Liberation Serif, serif">5441</text>
<text transform="translate(538.74,122.8) rotate(-90)" font-size="5.0" fill="#2a2a2a" stroke="#2a2a2a" stroke-width="0.28" text-anchor="end" font-family="Liberation Serif, serif">5611</text>
<text x="427.5" y="19" font-size="7.4" fill="#222" text-anchor="middle">Wrist flexion</text>
<text x="338.5" y="121.30" font-size="6.7" fill="#333" stroke="#333" stroke-width="0.1" text-anchor="end">0</text>
<text x="343.3" y="102.70" font-size="6.7" fill="#333" stroke="#333" stroke-width="0.1" text-anchor="end" textLength="31.5" lengthAdjust="spacingAndGlyphs">0.5 × 10<tspan dy="-2.55" font-size="4.15">−4</tspan></text>
<text x="343.3" y="84.10" font-size="6.7" fill="#333" stroke="#333" stroke-width="0.1" text-anchor="end" textLength="31.5" lengthAdjust="spacingAndGlyphs">1.0 × 10<tspan dy="-2.55" font-size="4.15">−4</tspan></text>
<text x="343.3" y="65.50" font-size="6.7" fill="#333" stroke="#333" stroke-width="0.1" text-anchor="end" textLength="31.5" lengthAdjust="spacingAndGlyphs">1.5 × 10<tspan dy="-2.55" font-size="4.15">−4</tspan></text>
<text x="343.3" y="46.90" font-size="6.7" fill="#333" stroke="#333" stroke-width="0.1" text-anchor="end" textLength="31.5" lengthAdjust="spacingAndGlyphs">2.0 × 10<tspan dy="-2.55" font-size="4.15">−4</tspan></text>
<text x="343.3" y="28.30" font-size="6.7" fill="#333" stroke="#333" stroke-width="0.1" text-anchor="end" textLength="31.5" lengthAdjust="spacingAndGlyphs">2.5 × 10<tspan dy="-2.55" font-size="4.15">−4</tspan></text>
 <text x="434.7" y="140.5" font-size="7.7" fill="#333" text-anchor="middle">samples</text>
<text transform="translate(302.0,59.4) rotate(90)" font-size="7.2" fill="#222" stroke="#222" stroke-width="0.12">Voltage/v</text>
<text x="420.5" y="166.7" font-size="11" fill="#111" text-anchor="middle">(<tspan font-weight="bold">b</tspan>)</text>
<path d="M298,340.8 H542.4 V185" fill="none" stroke="#9a9a9a" stroke-width="1.2" opacity="0.6"/>
<rect x="296.5" y="183.6" width="245" height="156.2" fill="#fff" stroke="#111" stroke-width="1.25"/>
<line x1="305.5" x2="538" y1="328" y2="328" stroke="#d9d9d9" stroke-width="0.8"/>
<line x1="332" x2="537.5" y1="308.40" y2="308.40" stroke="#d9d9d9" stroke-width="0.8"/>
<line x1="332" x2="537.5" y1="296.94" y2="296.94" stroke="#d9d9d9" stroke-width="0.8"/>
<line x1="332" x2="537.5" y1="285.48" y2="285.48" stroke="#d9d9d9" stroke-width="0.8"/>
<line x1="332" x2="537.5" y1="274.02" y2="274.02" stroke="#d9d9d9" stroke-width="0.8"/>
<line x1="332" x2="537.5" y1="262.56" y2="262.56" stroke="#d9d9d9" stroke-width="0.8"/>
<line x1="332" x2="537.5" y1="251.10" y2="251.10" stroke="#d9d9d9" stroke-width="0.8"/>
<line x1="332" x2="537.5" y1="239.64" y2="239.64" stroke="#d9d9d9" stroke-width="0.8"/>
<line x1="332" x2="537.5" y1="228.18" y2="228.18" stroke="#d9d9d9" stroke-width="0.8"/>
<line x1="332" x2="537.5" y1="216.72" y2="216.72" stroke="#d9d9d9" stroke-width="0.8"/>
<line x1="332" x2="537.5" y1="205.26" y2="205.26" stroke="#d9d9d9" stroke-width="0.8"/>
<path d="M331.40,308.40 L331.40,308.40 L332.02,308.40 L332.02,308.40 L332.64,308.40 L332.64,308.40 L333.26,308.40 L333.26,308.40 L333.88,308.40 L333.88,308.40 L334.50,308.40 L334.50,308.40 L335.12,308.40 L335.12,299.16 L335.74,305.99 L335.74,288.92 L336.36,308.40 L336.36,290.05 L336.98,307.78 L336.98,290.28 L337.60,308.40 L337.60,292.88 L338.22,308.40 L338.22,302.68 L338.84,303.71 L338.84,300.80 L339.46,308.40 L339.46,296.20 L340.08,308.40 L340.08,291.21 L340.70,308.40 L340.70,291.25 L341.32,308.40 L341.32,293.41 L341.94,306.46 L341.94,295.18 L342.56,308.40 L342.56,303.68 L343.18,308.40 L343.18,301.09 L343.80,303.21 L343.80,289.86 L344.42,308.40 L344.42,302.51 L345.04,308.40 L345.04,283.76 L345.66,308.40 L345.66,291.33 L346.28,304.19 L346.28,290.78 L346.90,308.40 L346.90,288.16 L347.52,308.40 L347.52,289.63 L348.14,306.49 L348.14,287.95 L348.76,308.40 L348.76,300.15 L349.38,308.40 L349.38,304.23 L350.00,305.81 L350.00,290.06 L350.62,308.40 L350.62,302.46 L351.24,303.63 L351.24,290.23 L351.86,308.40 L351.86,292.34 L352.48,306.49 L352.48,300.66 L353.10,308.40 L353.10,291.09 L353.72,308.40 L353.72,294.40 L354.34,308.40 L354.34,303.35 L354.96,308.40 L354.96,300.34 L355.58,302.82 L355.58,291.96 L356.20,308.40 L356.20,289.34 L356.82,308.40 L356.82,291.32 L357.44,308.40 L357.44,293.41 L358.06,305.57 L358.06,287.77 L358.68,308.40 L358.68,292.80 L359.30,303.58 L359.30,297.75 L359.92,308.40 L359.92,291.40 L360.54,307.03 L360.54,292.90 L361.16,308.40 L361.16,289.78 L361.78,308.40 L361.78,289.75 L362.40,308.40 L362.40,284.91 L363.02,302.92 L363.02,290.87 L363.64,308.40 L363.64,295.53 L364.26,308.40 L364.26,301.58 L364.88,308.08 L364.88,286.98 L365.50,308.40 L365.50,292.57 L366.12,305.80 L366.12,293.33 L366.74,308.40 L366.74,296.96 L367.36,308.40 L367.36,289.21 L367.98,308.40 L367.98,289.49 L368.60,307.95 L368.60,290.46 L369.22,303.73 L369.22,302.23 L369.84,306.73 L369.84,291.98 L370.46,308.40 L370.46,291.75 L371.08,303.36 L371.08,300.72 L371.70,308.40 L371.70,287.77 L372.32,308.40 L372.32,289.36 L372.94,308.40 L372.94,293.35 L373.56,308.40 L373.56,289.02 L374.18,308.40 L374.18,294.66 L374.80,308.40 L374.80,270.01 L375.42,308.40 L375.42,296.72 L376.04,308.40 L376.04,290.75 L376.66,308.40 L376.66,298.29 L377.28,308.40 L377.28,285.48 L377.90,308.40 L377.90,299.23 L378.52,308.40 L378.52,304.02 L379.14,308.40 L379.14,284.71 L379.76,304.05 L379.76,282.61 L380.38,308.40 L380.38,297.09 L381.00,308.40 L381.00,300.24 L381.62,308.40 L381.62,300.04 L382.24,308.40 L382.24,286.63 L382.86,308.40 L382.86,295.15 L383.48,308.40 L383.48,288.81 L384.10,308.40 L384.10,291.18 L384.72,308.40 L384.72,293.66 L385.34,308.40 L385.34,278.60 L385.96,308.40 L385.96,294.93 L386.58,308.40 L386.58,299.56 L387.20,308.40 L387.20,284.40 L387.82,308.40 L387.82,296.00 L388.44,303.68 L388.44,301.67 L389.06,308.40 L389.06,289.49 L389.68,308.21 L389.68,296.14 L390.30,308.40 L390.30,303.06 L390.92,308.40 L390.92,291.29 L391.54,308.40 L391.54,291.63 L392.16,308.40 L392.16,303.42 L392.78,308.40 L392.78,287.20 L393.40,308.40 L393.40,291.65 L394.02,308.40 L394.02,287.31 L394.64,308.40 L394.64,294.63 L395.26,308.40 L395.26,289.11 L395.88,308.40 L395.88,289.27 L396.50,308.40 L396.50,293.17 L397.12,304.65 L397.12,287.67 L397.74,308.40 L397.74,286.05 L398.36,306.56 L398.36,300.79 L398.98,308.40 L398.98,296.31 L399.60,306.44 L399.60,290.55 L400.22,308.40 L400.22,289.62 L400.84,308.40 L400.84,290.72 L401.46,307.13 L401.46,296.64 L402.08,308.40 L402.08,290.06 L402.70,307.76 L402.70,291.06 L403.32,308.40 L403.32,287.83 L403.94,302.93 L403.94,293.35 L404.56,308.40 L404.56,296.63 L405.18,308.40 L405.18,287.71 L405.80,308.40 L405.80,300.48 L406.42,308.40 L406.42,281.47 L407.04,308.40 L407.04,294.61 L407.66,308.40 L407.66,296.88 L408.28,308.40 L408.28,291.18 L408.90,308.40 L408.90,291.14 L409.52,308.40 L409.52,286.82 L410.14,308.40 L410.14,288.22 L410.76,308.40 L410.76,289.49 L411.38,308.40 L411.38,292.74 L412.00,308.40 L412.00,300.25 L412.62,308.40 L412.62,290.54 L413.24,308.15 L413.24,291.24 L413.86,305.78 L413.86,290.01 L414.48,308.40 L414.48,288.80 L415.10,308.40 L415.10,301.44 L415.72,308.40 L415.72,296.30 L416.34,308.40 L416.34,284.91 L416.96,308.40 L416.96,288.15 L417.58,306.28 L417.58,300.52 L418.20,308.40 L418.20,282.61 L418.82,307.05 L418.82,285.08 L419.44,308.40 L419.44,286.36 L420.06,308.40 L420.06,304.04 L420.68,308.40 L420.68,299.14 L421.30,308.40 L421.30,275.74 L421.92,308.40 L421.92,293.72 L422.54,308.40 L422.54,284.84 L423.16,308.40 L423.16,283.25 L423.78,308.40 L423.78,285.48 L424.40,303.30 L424.40,303.48 L425.02,308.40 L425.02,300.29 L425.64,308.40 L425.64,289.10 L426.26,308.40 L426.26,289.11 L426.88,308.40 L426.88,292.55 L427.50,306.93 L427.50,281.47 L428.12,308.40 L428.12,297.12 L428.74,308.00 L428.74,291.63 L429.36,307.25 L429.36,293.68 L429.98,308.11 L429.98,282.61 L430.60,308.40 L430.60,301.34 L431.22,308.40 L431.22,287.95 L431.84,308.40 L431.84,290.68 L432.46,308.40 L432.46,296.52 L433.08,306.79 L433.08,274.02 L433.70,308.40 L433.70,290.37 L434.32,308.40 L434.32,300.98 L434.94,305.96 L434.94,282.41 L435.56,308.40 L435.56,279.75 L436.18,308.40 L436.18,286.30 L436.80,308.40 L436.80,296.98 L437.42,308.40 L437.42,296.86 L438.04,305.77 L438.04,274.59 L438.66,308.40 L438.66,287.80 L439.28,307.42 L439.28,292.83 L439.90,308.40 L439.90,301.62 L440.52,307.66 L440.52,274.02 L441.14,308.40 L441.14,287.89 L441.76,305.65 L441.76,276.30 L442.38,308.40 L442.38,266.95 L443.00,308.40 L443.00,254.54 L443.62,308.40 L443.62,277.12 L444.24,308.40 L444.24,292.40 L444.86,304.18 L444.86,268.29 L445.48,308.40 L445.48,279.86 L446.10,308.40 L446.10,277.12 L446.72,303.44 L446.72,259.69 L447.34,306.04 L447.34,282.96 L447.96,308.40 L447.96,299.32 L448.58,308.40 L448.58,281.12 L449.20,308.40 L449.20,256.83 L449.82,308.40 L449.82,264.28 L450.44,303.02 L450.44,293.52 L451.06,308.40 L451.06,238.49 L451.68,302.75 L451.68,248.18 L452.30,304.91 L452.30,245.37 L452.92,308.40 L452.92,283.47 L453.54,308.40 L453.54,290.56 L454.16,308.26 L454.16,219.58 L454.78,308.40 L454.78,251.10 L455.40,305.98 L455.40,291.63 L456.02,308.40 L456.02,265.42 L456.64,308.40 L456.64,289.70 L457.26,308.40 L457.26,264.56 L457.88,308.40 L457.88,290.00 L458.50,308.40 L458.50,293.34 L459.12,303.57 L459.12,256.83 L459.74,308.40 L459.74,299.70 L460.36,308.40 L460.36,273.34 L460.98,308.40 L460.98,276.06 L461.60,308.40 L461.60,279.30 L462.22,306.41 L462.22,264.28 L462.84,308.40 L462.84,280.36 L463.46,308.40 L463.46,297.29 L464.08,308.40 L464.08,278.67 L464.70,306.79 L464.70,274.02 L465.32,307.70 L465.32,298.97 L465.94,308.40 L465.94,279.27 L466.56,308.40 L466.56,288.14 L467.18,308.40 L467.18,295.96 L467.80,305.83 L467.80,268.29 L468.42,308.40 L468.42,283.31 L469.04,306.14 L469.04,290.25 L469.66,303.60 L469.66,301.52 L470.28,308.40 L470.28,279.75 L470.90,308.40 L470.90,291.53 L471.52,308.40 L471.52,287.73 L472.14,308.40 L472.14,279.28 L472.76,308.40 L472.76,297.01 L473.38,308.40 L473.38,276.31 L474.00,308.40 L474.00,286.82 L474.62,303.11 L474.62,284.18 L475.24,304.46 L475.24,277.98 L475.86,303.81 L475.86,292.33 L476.48,308.40 L476.48,290.88 L477.10,308.40 L477.10,269.44 L477.72,308.40 L477.72,300.85 L478.34,308.40 L478.34,294.80 L478.96,303.05 L478.96,290.69 L479.58,308.40 L479.58,289.03 L480.20,308.40 L480.20,282.61 L480.82,308.40 L480.82,290.11 L481.44,308.40 L481.44,289.52 L482.06,308.40 L482.06,303.65 L482.68,308.40 L482.68,286.15 L483.30,308.40 L483.30,279.63 L483.92,306.97 L483.92,276.31 L484.54,308.40 L484.54,289.68 L485.16,308.40 L485.16,290.82 L485.78,308.40 L485.78,283.80 L486.40,308.04 L486.40,285.73 L487.02,308.40 L487.02,285.48 L487.64,308.40 L487.64,288.80 L488.26,308.40 L488.26,283.78 L488.88,308.40 L488.88,303.67 L489.50,308.40 L489.50,289.33 L490.12,308.40 L490.12,292.94 L490.74,308.40 L490.74,278.03 L491.36,306.34 L491.36,285.96 L491.98,308.40 L491.98,299.71 L492.60,308.40 L492.60,301.77 L493.22,307.20 L493.22,290.04 L493.84,308.40 L493.84,299.00 L494.46,308.40 L494.46,303.84 L495.08,308.40 L495.08,284.12 L495.70,305.09 L495.70,281.47 L496.32,308.40 L496.32,288.09 L496.94,308.40 L496.94,290.04 L497.56,307.20 L497.56,285.04 L498.18,304.94 L498.18,286.40 L498.80,306.06 L498.80,283.97 L499.42,308.15 L499.42,291.97 L500.04,308.40 L500.04,298.41 L500.66,308.40 L500.66,297.49 L501.28,308.40 L501.28,287.76 L501.90,308.40 L501.90,274.02 L502.52,303.26 L502.52,297.18 L503.14,308.40 L503.14,290.74 L503.76,303.39 L503.76,299.61 L504.38,308.40 L504.38,299.89 L505.00,308.40 L505.00,286.63 L505.62,308.40 L505.62,298.37 L506.24,308.40 L506.24,290.48 L506.86,308.40 L506.86,287.94 L507.48,308.40 L507.48,298.79 L508.10,306.80 L508.10,300.57 L508.72,308.40 L508.72,285.48 L509.34,303.72 L509.34,301.07 L509.96,308.40 L509.96,288.12 L510.58,307.16 L510.58,291.50 L511.20,308.40 L511.20,291.00 L511.82,308.40 L511.82,297.97 L512.44,308.40 L512.44,290.76 L513.06,306.63 L513.06,293.32 L513.68,308.40 L513.68,291.82 L514.30,303.34 L514.30,289.49 L514.92,308.40 L514.92,291.50 L515.54,303.08 L515.54,289.60 L516.16,308.40 L516.16,293.79 L516.78,308.40 L516.78,302.54 L517.40,308.40 L517.40,291.54 L518.02,305.91 L518.02,287.20 L518.64,302.73 L518.64,299.39 L519.26,308.40 L519.26,301.34 L519.88,308.40 L519.88,297.20 L520.50,307.69 L520.50,290.41 L521.12,308.40 L521.12,292.15 L521.74,308.40 L521.74,297.71 L522.36,307.23 L522.36,293.45 L522.98,308.40 L522.98,302.86 L523.60,308.40 L523.60,296.01 L524.22,308.40 L524.22,299.45 L524.84,308.40 L524.84,289.49 L525.46,303.94 L525.46,291.48 L526.08,308.40 L526.08,290.16 L526.70,303.94 L526.70,288.92 L527.32,306.50 L527.32,303.26 L527.94,308.40 L527.94,291.91 L528.56,308.40 L528.56,301.63 L529.18,308.40 L529.18,298.87 L529.80,308.40 L529.80,289.38 L530.42,308.40 L530.42,304.20 L531.04,308.40 L531.04,285.48 L531.66,304.17 L531.66,294.55 L532.28,305.41 L532.28,302.32 L532.90,308.40 L532.90,287.54 L533.52,308.40 L533.52,295.20 L534.14,308.40 L534.14,289.85 L534.76,308.40 L534.76,295.09 L535.38,306.03 L535.38,290.06 L536.00,308.40 L536.00,299.97 L536.62,308.40 L536.62,292.48" fill="none" stroke="#1e9cd8" stroke-width="0.75" stroke-linejoin="round"/>
<text transform="translate(334.31,313.0) rotate(-90)" font-size="5.3" fill="#2a2a2a" stroke="#2a2a2a" stroke-width="0.25" text-anchor="end" font-family="Liberation Serif, serif">1</text>
<text transform="translate(340.41,313.0) rotate(-90)" font-size="5.3" fill="#2a2a2a" stroke="#2a2a2a" stroke-width="0.25" text-anchor="end" font-family="Liberation Serif, serif">134</text>
<text transform="translate(346.51,313.0) rotate(-90)" font-size="5.3" fill="#2a2a2a" stroke="#2a2a2a" stroke-width="0.25" text-anchor="end" font-family="Liberation Serif, serif">267</text>
<text transform="translate(352.61,313.0) rotate(-90)" font-size="5.3" fill="#2a2a2a" stroke="#2a2a2a" stroke-width="0.25" text-anchor="end" font-family="Liberation Serif, serif">400</text>
<text transform="translate(358.71,313.0) rotate(-90)" font-size="5.3" fill="#2a2a2a" stroke="#2a2a2a" stroke-width="0.25" text-anchor="end" font-family="Liberation Serif, serif">533</text>
<text transform="translate(364.81,313.0) rotate(-90)" font-size="5.3" fill="#2a2a2a" stroke="#2a2a2a" stroke-width="0.25" text-anchor="end" font-family="Liberation Serif, serif">666</text>
<text transform="translate(370.91,313.0) rotate(-90)" font-size="5.3" fill="#2a2a2a" stroke="#2a2a2a" stroke-width="0.25" text-anchor="end" font-family="Liberation Serif, serif">799</text>
<text transform="translate(377.01,313.0) rotate(-90)" font-size="5.3" fill="#2a2a2a" stroke="#2a2a2a" stroke-width="0.25" text-anchor="end" font-family="Liberation Serif, serif">932</text>
<text transform="translate(383.11,313.0) rotate(-90)" font-size="5.3" fill="#2a2a2a" stroke="#2a2a2a" stroke-width="0.25" text-anchor="end" font-family="Liberation Serif, serif">1065</text>
<text transform="translate(389.21,313.0) rotate(-90)" font-size="5.3" fill="#2a2a2a" stroke="#2a2a2a" stroke-width="0.25" text-anchor="end" font-family="Liberation Serif, serif">1198</text>
<text transform="translate(395.31,313.0) rotate(-90)" font-size="5.3" fill="#2a2a2a" stroke="#2a2a2a" stroke-width="0.25" text-anchor="end" font-family="Liberation Serif, serif">1331</text>
<text transform="translate(401.41,313.0) rotate(-90)" font-size="5.3" fill="#2a2a2a" stroke="#2a2a2a" stroke-width="0.25" text-anchor="end" font-family="Liberation Serif, serif">1464</text>
<text transform="translate(407.51,313.0) rotate(-90)" font-size="5.3" fill="#2a2a2a" stroke="#2a2a2a" stroke-width="0.25" text-anchor="end" font-family="Liberation Serif, serif">1597</text>
<text transform="translate(413.61,313.0) rotate(-90)" font-size="5.3" fill="#2a2a2a" stroke="#2a2a2a" stroke-width="0.25" text-anchor="end" font-family="Liberation Serif, serif">1730</text>
<text transform="translate(419.71,313.0) rotate(-90)" font-size="5.3" fill="#2a2a2a" stroke="#2a2a2a" stroke-width="0.25" text-anchor="end" font-family="Liberation Serif, serif">1863</text>
<text transform="translate(425.81,313.0) rotate(-90)" font-size="5.3" fill="#2a2a2a" stroke="#2a2a2a" stroke-width="0.25" text-anchor="end" font-family="Liberation Serif, serif">1996</text>
<text transform="translate(431.91,313.0) rotate(-90)" font-size="5.3" fill="#2a2a2a" stroke="#2a2a2a" stroke-width="0.25" text-anchor="end" font-family="Liberation Serif, serif">2129</text>
<text transform="translate(438.01,313.0) rotate(-90)" font-size="5.3" fill="#2a2a2a" stroke="#2a2a2a" stroke-width="0.25" text-anchor="end" font-family="Liberation Serif, serif">2262</text>
<text transform="translate(444.11,313.0) rotate(-90)" font-size="5.3" fill="#2a2a2a" stroke="#2a2a2a" stroke-width="0.25" text-anchor="end" font-family="Liberation Serif, serif">2395</text>
<text transform="translate(450.21,313.0) rotate(-90)" font-size="5.3" fill="#2a2a2a" stroke="#2a2a2a" stroke-width="0.25" text-anchor="end" font-family="Liberation Serif, serif">2528</text>
<text transform="translate(456.31,313.0) rotate(-90)" font-size="5.3" fill="#2a2a2a" stroke="#2a2a2a" stroke-width="0.25" text-anchor="end" font-family="Liberation Serif, serif">2661</text>
<text transform="translate(462.41,313.0) rotate(-90)" font-size="5.3" fill="#2a2a2a" stroke="#2a2a2a" stroke-width="0.25" text-anchor="end" font-family="Liberation Serif, serif">2794</text>
<text transform="translate(468.51,313.0) rotate(-90)" font-size="5.3" fill="#2a2a2a" stroke="#2a2a2a" stroke-width="0.25" text-anchor="end" font-family="Liberation Serif, serif">2927</text>
<text transform="translate(474.61,313.0) rotate(-90)" font-size="5.3" fill="#2a2a2a" stroke="#2a2a2a" stroke-width="0.25" text-anchor="end" font-family="Liberation Serif, serif">3060</text>
<text transform="translate(480.71,313.0) rotate(-90)" font-size="5.3" fill="#2a2a2a" stroke="#2a2a2a" stroke-width="0.25" text-anchor="end" font-family="Liberation Serif, serif">3193</text>
<text transform="translate(486.81,313.0) rotate(-90)" font-size="5.3" fill="#2a2a2a" stroke="#2a2a2a" stroke-width="0.25" text-anchor="end" font-family="Liberation Serif, serif">3326</text>
<text transform="translate(492.91,313.0) rotate(-90)" font-size="5.3" fill="#2a2a2a" stroke="#2a2a2a" stroke-width="0.25" text-anchor="end" font-family="Liberation Serif, serif">3459</text>
<text transform="translate(499.01,313.0) rotate(-90)" font-size="5.3" fill="#2a2a2a" stroke="#2a2a2a" stroke-width="0.25" text-anchor="end" font-family="Liberation Serif, serif">3592</text>
<text transform="translate(505.11,313.0) rotate(-90)" font-size="5.3" fill="#2a2a2a" stroke="#2a2a2a" stroke-width="0.25" text-anchor="end" font-family="Liberation Serif, serif">3725</text>
<text transform="translate(511.21,313.0) rotate(-90)" font-size="5.3" fill="#2a2a2a" stroke="#2a2a2a" stroke-width="0.25" text-anchor="end" font-family="Liberation Serif, serif">3858</text>
<text transform="translate(517.31,313.0) rotate(-90)" font-size="5.3" fill="#2a2a2a" stroke="#2a2a2a" stroke-width="0.25" text-anchor="end" font-family="Liberation Serif, serif">3991</text>
<text transform="translate(523.41,313.0) rotate(-90)" font-size="5.3" fill="#2a2a2a" stroke="#2a2a2a" stroke-width="0.25" text-anchor="end" font-family="Liberation Serif, serif">4124</text>
<text transform="translate(529.51,313.0) rotate(-90)" font-size="5.3" fill="#2a2a2a" stroke="#2a2a2a" stroke-width="0.25" text-anchor="end" font-family="Liberation Serif, serif">4257</text>
<text transform="translate(535.61,313.0) rotate(-90)" font-size="5.3" fill="#2a2a2a" stroke="#2a2a2a" stroke-width="0.25" text-anchor="end" font-family="Liberation Serif, serif">4390</text>
<text x="423.5" y="193.6" font-size="6.35" fill="#222" text-anchor="middle">Wrist pronation</text>
<text x="327.6" y="309.80" font-size="5.7" fill="#333" stroke="#333" stroke-width="0.1" text-anchor="end">0</text>
<text x="331.6" y="298.34" font-size="5.7" fill="#333" stroke="#333" stroke-width="0.1" text-anchor="end" textLength="26.2" lengthAdjust="spacingAndGlyphs">0.2 × 10<tspan dy="-2.17" font-size="3.53">−4</tspan></text>
<text x="331.6" y="286.88" font-size="5.7" fill="#333" stroke="#333" stroke-width="0.1" text-anchor="end" textLength="26.2" lengthAdjust="spacingAndGlyphs">0.4 × 10<tspan dy="-2.17" font-size="3.53">−4</tspan></text>
<text x="331.6" y="275.42" font-size="5.7" fill="#333" stroke="#333" stroke-width="0.1" text-anchor="end" textLength="26.2" lengthAdjust="spacingAndGlyphs">0.6 × 10<tspan dy="-2.17" font-size="3.53">−4</tspan></text>
<text x="331.6" y="263.96" font-size="5.7" fill="#333" stroke="#333" stroke-width="0.1" text-anchor="end" textLength="26.2" lengthAdjust="spacingAndGlyphs">0.8 × 10<tspan dy="-2.17" font-size="3.53">−4</tspan></text>
<text x="331.6" y="252.50" font-size="5.7" fill="#333" stroke="#333" stroke-width="0.1" text-anchor="end" textLength="26.2" lengthAdjust="spacingAndGlyphs">1.0 × 10<tspan dy="-2.17" font-size="3.53">−4</tspan></text>
<text x="331.6" y="241.04" font-size="5.7" fill="#333" stroke="#333" stroke-width="0.1" text-anchor="end" textLength="26.2" lengthAdjust="spacingAndGlyphs">1.2 × 10<tspan dy="-2.17" font-size="3.53">−4</tspan></text>
<text x="331.6" y="229.58" font-size="5.7" fill="#333" stroke="#333" stroke-width="0.1" text-anchor="end" textLength="26.2" lengthAdjust="spacingAndGlyphs">1.4 × 10<tspan dy="-2.17" font-size="3.53">−4</tspan></text>
<text x="331.6" y="218.12" font-size="5.7" fill="#333" stroke="#333" stroke-width="0.1" text-anchor="end" textLength="26.2" lengthAdjust="spacingAndGlyphs">1.6 × 10<tspan dy="-2.17" font-size="3.53">−4</tspan></text>
<text x="331.6" y="206.66" font-size="5.7" fill="#333" stroke="#333" stroke-width="0.1" text-anchor="end" textLength="26.2" lengthAdjust="spacingAndGlyphs">1.8 × 10<tspan dy="-2.17" font-size="3.53">−4</tspan></text>
<text x="423.6" y="336.4" font-size="6.45" fill="#333" text-anchor="middle">samples</text>
<text transform="translate(299.2,244.1) rotate(90)" font-size="6.5" fill="#222" stroke="#222" stroke-width="0.1">Voltage/v</text>
<text x="420.7" y="362.2" font-size="11" fill="#111" text-anchor="middle">(<tspan font-weight="bold">c</tspan>)</text>
</svg></body></html>
